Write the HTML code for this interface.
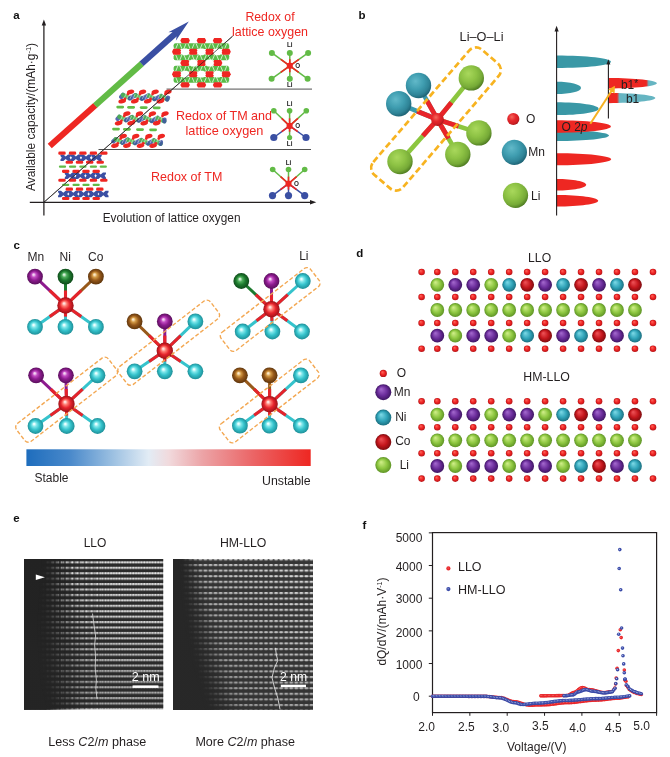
<!DOCTYPE html>
<html><head><meta charset="utf-8"><title>figure</title>
<style>html,body{margin:0;padding:0;background:#fff;}svg{display:block;font-family:'Liberation Sans', sans-serif;}</style>
</head><body>
<svg width="670" height="757" viewBox="0 0 670 757">
<defs>
<radialGradient id="gTeal" cx="0.4" cy="0.36" r="0.7" fx="0.38" fy="0.33"><stop offset="0" stop-color="#62b9c9"/><stop offset="0.45" stop-color="#3f9db0"/><stop offset="0.75" stop-color="#2f8497"/><stop offset="1" stop-color="#195a6b"/></radialGradient>
<radialGradient id="gLi" cx="0.4" cy="0.36" r="0.7" fx="0.38" fy="0.33"><stop offset="0" stop-color="#a9d85c"/><stop offset="0.45" stop-color="#8dc244"/><stop offset="0.75" stop-color="#76aa37"/><stop offset="1" stop-color="#446f1c"/></radialGradient>
<radialGradient id="gO" cx="0.4" cy="0.36" r="0.7" fx="0.38" fy="0.33"><stop offset="0" stop-color="#f4675c"/><stop offset="0.45" stop-color="#e5262b"/><stop offset="0.75" stop-color="#cf1f24"/><stop offset="1" stop-color="#9a1318"/></radialGradient>
<radialGradient id="cPur" cx="0.5" cy="0.5" r="0.5" fx="0.4" fy="0.36"><stop offset="0" stop-color="#f3d6f3"/><stop offset="0.08" stop-color="#f3d6f3"/><stop offset="0.3" stop-color="#c24bc2"/><stop offset="0.6" stop-color="#8d1b8f"/><stop offset="1" stop-color="#5a0f5c"/></radialGradient>
<radialGradient id="cGrn" cx="0.5" cy="0.5" r="0.5" fx="0.4" fy="0.36"><stop offset="0" stop-color="#d8f0da"/><stop offset="0.08" stop-color="#d8f0da"/><stop offset="0.3" stop-color="#4fae5c"/><stop offset="0.6" stop-color="#1d7a2e"/><stop offset="1" stop-color="#0f4a1a"/></radialGradient>
<radialGradient id="cBrn" cx="0.5" cy="0.5" r="0.5" fx="0.4" fy="0.36"><stop offset="0" stop-color="#fbe8c8"/><stop offset="0.08" stop-color="#fbe8c8"/><stop offset="0.3" stop-color="#d39a45"/><stop offset="0.6" stop-color="#97591a"/><stop offset="1" stop-color="#5e350c"/></radialGradient>
<radialGradient id="cCyn" cx="0.5" cy="0.5" r="0.5" fx="0.4" fy="0.36"><stop offset="0" stop-color="#eaffff"/><stop offset="0.08" stop-color="#eaffff"/><stop offset="0.3" stop-color="#7fe6ea"/><stop offset="0.6" stop-color="#35c3cc"/><stop offset="1" stop-color="#1e8f98"/></radialGradient>
<radialGradient id="cRed" cx="0.5" cy="0.5" r="0.5" fx="0.4" fy="0.36"><stop offset="0" stop-color="#ffe0dc"/><stop offset="0.08" stop-color="#ffe0dc"/><stop offset="0.3" stop-color="#ff7a70"/><stop offset="0.6" stop-color="#e5232b"/><stop offset="1" stop-color="#9c1218"/></radialGradient>
<radialGradient id="dLi" cx="0.5" cy="0.5" r="0.5" fx="0.35" fy="0.3"><stop offset="0" stop-color="#d3f08c"/><stop offset="0.6" stop-color="#8cc63f"/><stop offset="1" stop-color="#5f9426"/></radialGradient>
<radialGradient id="dMn" cx="0.5" cy="0.5" r="0.5" fx="0.35" fy="0.3"><stop offset="0" stop-color="#a66bd0"/><stop offset="0.6" stop-color="#6a2c9a"/><stop offset="1" stop-color="#3f1663"/></radialGradient>
<radialGradient id="dNi" cx="0.5" cy="0.5" r="0.5" fx="0.35" fy="0.3"><stop offset="0" stop-color="#7fdbe8"/><stop offset="0.6" stop-color="#2fa3b8"/><stop offset="1" stop-color="#1b6f80"/></radialGradient>
<radialGradient id="dCo" cx="0.5" cy="0.5" r="0.5" fx="0.35" fy="0.3"><stop offset="0" stop-color="#f0555a"/><stop offset="0.6" stop-color="#c4161c"/><stop offset="1" stop-color="#7e0c10"/></radialGradient>
<radialGradient id="dO" cx="0.5" cy="0.5" r="0.5" fx="0.35" fy="0.3"><stop offset="0" stop-color="#ff6a5e"/><stop offset="0.6" stop-color="#ee2222"/><stop offset="1" stop-color="#b51418"/></radialGradient>
<linearGradient id="bar" x1="0" x2="1" y1="0" y2="0"><stop offset="0" stop-color="#1e6dbd"/><stop offset="0.15" stop-color="#4888ca"/><stop offset="0.3" stop-color="#9abfe1"/><stop offset="0.43" stop-color="#e2ecf5"/><stop offset="0.5" stop-color="#f1dadd"/><stop offset="0.62" stop-color="#eca3a6"/><stop offset="0.8" stop-color="#eb6465"/><stop offset="1" stop-color="#ee2722"/></linearGradient>
<pattern id="tem1" x="24" y="561.3" width="2.77" height="5.43" patternUnits="userSpaceOnUse"><rect width="2.77" height="5.43" fill="#2a2a2a"/><rect x="0" y="0" width="2.77" height="2.1" fill="#888"/><rect x="0.25" y="0" width="2.0" height="2.1" rx="0.8" fill="#e6e6e6"/></pattern>
<pattern id="tem2" x="173" y="563.95" width="5.05" height="5.6" patternUnits="userSpaceOnUse"><rect width="5.05" height="5.6" fill="#363636"/><rect x="0" y="0.3" width="5.05" height="1.7" fill="#5c5c5c"/><rect x="0.3" y="0" width="3.7" height="2.2" rx="1" fill="#dadada"/></pattern>
<filter id="b05" x="-5%" y="-5%" width="110%" height="110%"><feGaussianBlur stdDeviation="0.4"/></filter>
<filter id="b5" x="-30%" y="-30%" width="160%" height="160%"><feGaussianBlur stdDeviation="5"/></filter>
<filter id="b3" x="-30%" y="-30%" width="160%" height="160%"><feGaussianBlur stdDeviation="3.5"/></filter>
<filter id="b03" x="-10%" y="-10%" width="120%" height="120%"><feGaussianBlur stdDeviation="0.3"/></filter>
<pattern id="vst" x="24.6" y="0" width="4.9" height="10" patternUnits="userSpaceOnUse"><rect x="0" y="0" width="1.9" height="10" fill="#262626"/></pattern>
<linearGradient id="mg1" x1="24" x2="114" y1="0" y2="0" gradientUnits="userSpaceOnUse"><stop offset="0" stop-color="#fff" stop-opacity="0.8"/><stop offset="0.55" stop-color="#fff" stop-opacity="0.6"/><stop offset="1" stop-color="#fff" stop-opacity="0"/></linearGradient>
<mask id="mk1" maskUnits="userSpaceOnUse" x="24" y="559" width="90" height="151"><rect x="24" y="559" width="90" height="151" fill="url(#mg1)"/></mask>
<linearGradient id="ov1" x1="0.2" x2="0" y1="0" y2="1"><stop offset="0" stop-color="#2a2a2a" stop-opacity="0"/><stop offset="0.35" stop-color="#2a2a2a" stop-opacity="0.08"/><stop offset="0.65" stop-color="#2a2a2a" stop-opacity="0.3"/><stop offset="1" stop-color="#2a2a2a" stop-opacity="0.28"/></linearGradient>
<linearGradient id="ov2" x1="1" x2="0.1" y1="0" y2="0.9"><stop offset="0" stop-color="#303030" stop-opacity="0"/><stop offset="0.3" stop-color="#303030" stop-opacity="0.12"/><stop offset="0.7" stop-color="#303030" stop-opacity="0.36"/><stop offset="1" stop-color="#303030" stop-opacity="0.4"/></linearGradient>
<clipPath id="clip1"><rect x="24" y="559" width="139.5" height="150.5"/></clipPath>
<clipPath id="clip2"><rect x="173" y="559" width="140" height="151"/></clipPath>
</defs>
<rect width="670" height="757" fill="#fff"/>
<g opacity="0.999">
<g id="panelA">
<text x="13.30" y="18.60" font-size="11.5" fill="#111" text-anchor="start" font-weight="bold">a</text>
<line x1="43.9" y1="24" x2="43.9" y2="215.5" stroke="#231f20" stroke-width="1.25"/>
<path d="M43.9 19.5 L46.1 25.6 L41.7 25.6 Z" fill="#231f20"/>
<line x1="29.8" y1="202.4" x2="311" y2="202.4" stroke="#231f20" stroke-width="1.25"/>
<path d="M316.3 202.3 L310 204.6 L310 200 Z" fill="#231f20"/>
<line x1="43.9" y1="202.3" x2="232.6" y2="36.2" stroke="#231f20" stroke-width="0.7"/>
<line x1="166.5" y1="89.1" x2="312" y2="89.1" stroke="#3c3c3c" stroke-width="0.9"/>
<line x1="98.5" y1="149.5" x2="311" y2="149.5" stroke="#3c3c3c" stroke-width="0.9"/>
<polygon points="47.72,143.78 93.32,102.96 97.39,107.51 51.78,148.32" fill="#ee2722"/>
<polygon points="93.10,103.16 139.82,61.35 143.88,65.89 97.16,107.71" fill="#62bb46"/>
<polygon points="139.59,61.55 173.65,31.07 177.71,35.62 143.66,66.09" fill="#3a4fa3"/>
<polygon points="172.53,32.07 168.37,32.37 188.80,21.60 175.84,40.72 176.60,36.62" fill="#3a4fa3"/>
<g filter="url(#b03)">
<polygon points="60.45,154.50 63.40,154.50 65.70,156.50 68.00,154.50 70.95,154.50 70.95,156.10 69.60,157.80 70.95,159.50 70.95,161.10 68.00,161.10 65.70,159.10 63.40,161.10 60.45,161.10 60.45,159.50 61.80,157.80 60.45,156.10" fill="#3a4fa3"/>
<polygon points="70.65,154.50 73.60,154.50 75.90,156.50 78.20,154.50 81.15,154.50 81.15,156.10 79.80,157.80 81.15,159.50 81.15,161.10 78.20,161.10 75.90,159.10 73.60,161.10 70.65,161.10 70.65,159.50 72.00,157.80 70.65,156.10" fill="#3a4fa3"/>
<polygon points="80.75,154.50 83.70,154.50 86.00,156.50 88.30,154.50 91.25,154.50 91.25,156.10 89.90,157.80 91.25,159.50 91.25,161.10 88.30,161.10 86.00,159.10 83.70,161.10 80.75,161.10 80.75,159.50 82.10,157.80 80.75,156.10" fill="#3a4fa3"/>
<polygon points="91.25,154.50 94.20,154.50 96.50,156.50 98.80,154.50 101.75,154.50 101.75,156.10 100.40,157.80 101.75,159.50 101.75,161.10 98.80,161.10 96.50,159.10 94.20,161.10 91.25,161.10 91.25,159.50 92.60,157.80 91.25,156.10" fill="#3a4fa3"/>
<rect x="58.30" y="151.60" width="7.4" height="3.1" rx="1.3" fill="#ee2722"/>
<rect x="68.80" y="151.60" width="7.4" height="3.1" rx="1.3" fill="#ee2722"/>
<rect x="79.20" y="151.60" width="7.4" height="3.1" rx="1.3" fill="#ee2722"/>
<rect x="89.70" y="151.60" width="7.4" height="3.1" rx="1.3" fill="#ee2722"/>
<rect x="100.10" y="151.60" width="7.4" height="3.1" rx="1.3" fill="#ee2722"/>
<rect x="65.60" y="160.70" width="7.4" height="3.1" rx="1.3" fill="#ee2722"/>
<rect x="75.80" y="160.70" width="7.4" height="3.1" rx="1.3" fill="#ee2722"/>
<rect x="86.00" y="160.70" width="7.4" height="3.1" rx="1.3" fill="#ee2722"/>
<rect x="96.50" y="160.70" width="7.4" height="3.1" rx="1.3" fill="#ee2722"/>
<rect x="58.90" y="165.40" width="7.2" height="2.4" rx="1.1" fill="#62bb46"/>
<rect x="69.00" y="165.40" width="7.2" height="2.4" rx="1.1" fill="#62bb46"/>
<rect x="79.30" y="165.40" width="7.2" height="2.4" rx="1.1" fill="#62bb46"/>
<rect x="89.80" y="165.40" width="7.2" height="2.4" rx="1.1" fill="#62bb46"/>
<rect x="99.70" y="165.40" width="7.2" height="2.4" rx="1.1" fill="#62bb46"/>
<polygon points="64.75,172.50 67.70,172.50 70.00,174.50 72.30,172.50 75.25,172.50 75.25,174.10 73.90,175.80 75.25,177.50 75.25,179.10 72.30,179.10 70.00,177.10 67.70,179.10 64.75,179.10 64.75,177.50 66.10,175.80 64.75,174.10" fill="#3a4fa3"/>
<polygon points="75.05,172.50 78.00,172.50 80.30,174.50 82.60,172.50 85.55,172.50 85.55,174.10 84.20,175.80 85.55,177.50 85.55,179.10 82.60,179.10 80.30,177.10 78.00,179.10 75.05,179.10 75.05,177.50 76.40,175.80 75.05,174.10" fill="#3a4fa3"/>
<polygon points="85.25,172.50 88.20,172.50 90.50,174.50 92.80,172.50 95.75,172.50 95.75,174.10 94.40,175.80 95.75,177.50 95.75,179.10 92.80,179.10 90.50,177.10 88.20,179.10 85.25,179.10 85.25,177.50 86.60,175.80 85.25,174.10" fill="#3a4fa3"/>
<polygon points="95.45,172.50 98.40,172.50 100.70,174.50 103.00,172.50 105.95,172.50 105.95,174.10 104.60,175.80 105.95,177.50 105.95,179.10 103.00,179.10 100.70,177.10 98.40,179.10 95.45,179.10 95.45,177.50 96.80,175.80 95.45,174.10" fill="#3a4fa3"/>
<rect x="62.00" y="169.80" width="7.4" height="3.1" rx="1.3" fill="#ee2722"/>
<rect x="72.40" y="169.80" width="7.4" height="3.1" rx="1.3" fill="#ee2722"/>
<rect x="82.30" y="169.80" width="7.4" height="3.1" rx="1.3" fill="#ee2722"/>
<rect x="92.50" y="169.80" width="7.4" height="3.1" rx="1.3" fill="#ee2722"/>
<rect x="58.30" y="178.70" width="7.4" height="3.1" rx="1.3" fill="#ee2722"/>
<rect x="68.80" y="178.70" width="7.4" height="3.1" rx="1.3" fill="#ee2722"/>
<rect x="79.20" y="178.70" width="7.4" height="3.1" rx="1.3" fill="#ee2722"/>
<rect x="89.70" y="178.70" width="7.4" height="3.1" rx="1.3" fill="#ee2722"/>
<rect x="100.10" y="178.70" width="7.4" height="3.1" rx="1.3" fill="#ee2722"/>
<rect x="62.10" y="183.70" width="7.2" height="2.4" rx="1.1" fill="#62bb46"/>
<rect x="72.50" y="183.70" width="7.2" height="2.4" rx="1.1" fill="#62bb46"/>
<rect x="82.40" y="183.70" width="7.2" height="2.4" rx="1.1" fill="#62bb46"/>
<rect x="92.60" y="183.70" width="7.2" height="2.4" rx="1.1" fill="#62bb46"/>
<polygon points="58.05,190.70 61.00,190.70 63.30,192.70 65.60,190.70 68.55,190.70 68.55,192.30 67.20,194.00 68.55,195.70 68.55,197.30 65.60,197.30 63.30,195.30 61.00,197.30 58.05,197.30 58.05,195.70 59.40,194.00 58.05,192.30" fill="#3a4fa3"/>
<polygon points="68.05,190.70 71.00,190.70 73.30,192.70 75.60,190.70 78.55,190.70 78.55,192.30 77.20,194.00 78.55,195.70 78.55,197.30 75.60,197.30 73.30,195.30 71.00,197.30 68.05,197.30 68.05,195.70 69.40,194.00 68.05,192.30" fill="#3a4fa3"/>
<polygon points="78.25,190.70 81.20,190.70 83.50,192.70 85.80,190.70 88.75,190.70 88.75,192.30 87.40,194.00 88.75,195.70 88.75,197.30 85.80,197.30 83.50,195.30 81.20,197.30 78.25,197.30 78.25,195.70 79.60,194.00 78.25,192.30" fill="#3a4fa3"/>
<polygon points="88.45,190.70 91.40,190.70 93.70,192.70 96.00,190.70 98.95,190.70 98.95,192.30 97.60,194.00 98.95,195.70 98.95,197.30 96.00,197.30 93.70,195.30 91.40,197.30 88.45,197.30 88.45,195.70 89.80,194.00 88.45,192.30" fill="#3a4fa3"/>
<polygon points="98.05,190.70 101.00,190.70 103.30,192.70 105.60,190.70 108.55,190.70 108.55,192.30 107.20,194.00 108.55,195.70 108.55,197.30 105.60,197.30 103.30,195.30 101.00,197.30 98.05,197.30 98.05,195.70 99.40,194.00 98.05,192.30" fill="#3a4fa3"/>
<rect x="65.60" y="187.60" width="7.4" height="3.1" rx="1.3" fill="#ee2722"/>
<rect x="75.80" y="187.60" width="7.4" height="3.1" rx="1.3" fill="#ee2722"/>
<rect x="86.00" y="187.60" width="7.4" height="3.1" rx="1.3" fill="#ee2722"/>
<rect x="96.10" y="187.60" width="7.4" height="3.1" rx="1.3" fill="#ee2722"/>
<rect x="62.00" y="197.00" width="7.4" height="3.1" rx="1.3" fill="#ee2722"/>
<rect x="72.40" y="197.00" width="7.4" height="3.1" rx="1.3" fill="#ee2722"/>
<rect x="82.30" y="197.00" width="7.4" height="3.1" rx="1.3" fill="#ee2722"/>
<rect x="92.50" y="197.00" width="7.4" height="3.1" rx="1.3" fill="#ee2722"/>
</g>
<g filter="url(#b03)">
<line x1="121.20" y1="96.98" x2="123.00" y2="94.89" stroke="#3a4fa3" stroke-width="4.3" stroke-linecap="round" opacity="0.85"/>
<line x1="123.00" y1="94.94" x2="129.80" y2="98.14" stroke="#4cb848" stroke-width="4.3" stroke-linecap="round" opacity="0.85"/>
<line x1="129.80" y1="98.34" x2="135.60" y2="95.14" stroke="#3a4fa3" stroke-width="4.3" stroke-linecap="round" opacity="0.85"/>
<line x1="135.60" y1="95.32" x2="141.80" y2="98.52" stroke="#4cb848" stroke-width="4.3" stroke-linecap="round" opacity="0.85"/>
<line x1="141.80" y1="98.70" x2="148.60" y2="95.50" stroke="#3a4fa3" stroke-width="4.3" stroke-linecap="round" opacity="0.85"/>
<line x1="148.60" y1="95.71" x2="154.40" y2="98.91" stroke="#4cb848" stroke-width="4.3" stroke-linecap="round" opacity="0.85"/>
<line x1="154.40" y1="99.08" x2="161.20" y2="95.88" stroke="#3a4fa3" stroke-width="4.3" stroke-linecap="round" opacity="0.85"/>
<line x1="161.20" y1="96.09" x2="167.20" y2="99.28" stroke="#4cb848" stroke-width="4.3" stroke-linecap="round" opacity="0.85"/>
<line x1="167.20" y1="99.46" x2="168.00" y2="97.66" stroke="#3a4fa3" stroke-width="4.3" stroke-linecap="round" opacity="0.85"/>
<line x1="123.70" y1="98.90" x2="125.90" y2="94.10" stroke="#fff" stroke-width="0.6" opacity="0.75"/>
<line x1="126.80" y1="98.90" x2="129.00" y2="94.10" stroke="#fff" stroke-width="0.6" opacity="0.75"/>
<line x1="129.90" y1="98.90" x2="132.10" y2="94.10" stroke="#fff" stroke-width="0.6" opacity="0.75"/>
<line x1="133.00" y1="98.90" x2="135.20" y2="94.10" stroke="#fff" stroke-width="0.6" opacity="0.75"/>
<line x1="136.10" y1="98.90" x2="138.30" y2="94.10" stroke="#fff" stroke-width="0.6" opacity="0.75"/>
<line x1="139.20" y1="98.90" x2="141.40" y2="94.10" stroke="#fff" stroke-width="0.6" opacity="0.75"/>
<line x1="142.30" y1="98.90" x2="144.50" y2="94.10" stroke="#fff" stroke-width="0.6" opacity="0.75"/>
<line x1="145.40" y1="98.90" x2="147.60" y2="94.10" stroke="#fff" stroke-width="0.6" opacity="0.75"/>
<line x1="148.50" y1="98.90" x2="150.70" y2="94.10" stroke="#fff" stroke-width="0.6" opacity="0.75"/>
<line x1="151.60" y1="98.90" x2="153.80" y2="94.10" stroke="#fff" stroke-width="0.6" opacity="0.75"/>
<line x1="154.70" y1="98.90" x2="156.90" y2="94.10" stroke="#fff" stroke-width="0.6" opacity="0.75"/>
<line x1="157.80" y1="98.90" x2="160.00" y2="94.10" stroke="#fff" stroke-width="0.6" opacity="0.75"/>
<line x1="160.90" y1="98.90" x2="163.10" y2="94.10" stroke="#fff" stroke-width="0.6" opacity="0.75"/>
<line x1="164.00" y1="98.90" x2="166.20" y2="94.10" stroke="#fff" stroke-width="0.6" opacity="0.75"/>
<ellipse cx="130.60" cy="91.80" rx="3.7" ry="2.2" fill="#ee2722" transform="rotate(-14 130.60 91.80)"/>
<circle cx="128.00" cy="94.10" r="1.4" fill="#ee2722"/>
<ellipse cx="142.60" cy="91.80" rx="3.7" ry="2.2" fill="#ee2722" transform="rotate(-14 142.60 91.80)"/>
<circle cx="140.00" cy="94.10" r="1.4" fill="#ee2722"/>
<ellipse cx="155.20" cy="91.80" rx="3.7" ry="2.2" fill="#ee2722" transform="rotate(-14 155.20 91.80)"/>
<circle cx="152.60" cy="94.10" r="1.4" fill="#ee2722"/>
<ellipse cx="168.00" cy="91.80" rx="3.7" ry="2.2" fill="#ee2722" transform="rotate(-14 168.00 91.80)"/>
<circle cx="165.40" cy="94.10" r="1.4" fill="#ee2722"/>
<ellipse cx="122.20" cy="101.20" rx="3.9" ry="2.2" fill="#ee2722" transform="rotate(-14 122.20 101.20)"/>
<circle cx="125.00" cy="98.90" r="1.4" fill="#ee2722"/>
<ellipse cx="134.80" cy="101.20" rx="3.9" ry="2.2" fill="#ee2722" transform="rotate(-14 134.80 101.20)"/>
<circle cx="137.60" cy="98.90" r="1.4" fill="#ee2722"/>
<ellipse cx="147.80" cy="101.20" rx="3.9" ry="2.2" fill="#ee2722" transform="rotate(-14 147.80 101.20)"/>
<circle cx="150.60" cy="98.90" r="1.4" fill="#ee2722"/>
<ellipse cx="160.40" cy="101.20" rx="3.9" ry="2.2" fill="#ee2722" transform="rotate(-14 160.40 101.20)"/>
<circle cx="163.20" cy="98.90" r="1.4" fill="#ee2722"/>
<rect x="116.30" y="105.70" width="7.8" height="2.7" rx="1.3" fill="#62bb46"/>
<rect x="127.20" y="105.95" width="7.8" height="2.7" rx="1.3" fill="#62bb46"/>
<rect x="139.80" y="106.20" width="7.8" height="2.7" rx="1.3" fill="#62bb46"/>
<rect x="152.80" y="106.45" width="7.8" height="2.7" rx="1.3" fill="#62bb46"/>
<line x1="117.60" y1="118.89" x2="119.40" y2="116.79" stroke="#3a4fa3" stroke-width="4.3" stroke-linecap="round" opacity="0.85"/>
<line x1="119.40" y1="116.84" x2="126.10" y2="120.04" stroke="#4cb848" stroke-width="4.3" stroke-linecap="round" opacity="0.85"/>
<line x1="126.10" y1="120.24" x2="131.90" y2="117.04" stroke="#3a4fa3" stroke-width="4.3" stroke-linecap="round" opacity="0.85"/>
<line x1="131.90" y1="117.21" x2="138.70" y2="120.41" stroke="#4cb848" stroke-width="4.3" stroke-linecap="round" opacity="0.85"/>
<line x1="138.70" y1="120.62" x2="145.00" y2="117.42" stroke="#3a4fa3" stroke-width="4.3" stroke-linecap="round" opacity="0.85"/>
<line x1="145.00" y1="117.61" x2="151.70" y2="120.81" stroke="#4cb848" stroke-width="4.3" stroke-linecap="round" opacity="0.85"/>
<line x1="151.70" y1="121.01" x2="157.50" y2="117.81" stroke="#3a4fa3" stroke-width="4.3" stroke-linecap="round" opacity="0.85"/>
<line x1="157.50" y1="117.98" x2="164.30" y2="121.18" stroke="#4cb848" stroke-width="4.3" stroke-linecap="round" opacity="0.85"/>
<line x1="164.30" y1="121.39" x2="164.50" y2="119.59" stroke="#3a4fa3" stroke-width="4.3" stroke-linecap="round" opacity="0.85"/>
<line x1="120.10" y1="120.80" x2="122.30" y2="116.00" stroke="#fff" stroke-width="0.6" opacity="0.75"/>
<line x1="123.20" y1="120.80" x2="125.40" y2="116.00" stroke="#fff" stroke-width="0.6" opacity="0.75"/>
<line x1="126.30" y1="120.80" x2="128.50" y2="116.00" stroke="#fff" stroke-width="0.6" opacity="0.75"/>
<line x1="129.40" y1="120.80" x2="131.60" y2="116.00" stroke="#fff" stroke-width="0.6" opacity="0.75"/>
<line x1="132.50" y1="120.80" x2="134.70" y2="116.00" stroke="#fff" stroke-width="0.6" opacity="0.75"/>
<line x1="135.60" y1="120.80" x2="137.80" y2="116.00" stroke="#fff" stroke-width="0.6" opacity="0.75"/>
<line x1="138.70" y1="120.80" x2="140.90" y2="116.00" stroke="#fff" stroke-width="0.6" opacity="0.75"/>
<line x1="141.80" y1="120.80" x2="144.00" y2="116.00" stroke="#fff" stroke-width="0.6" opacity="0.75"/>
<line x1="144.90" y1="120.80" x2="147.10" y2="116.00" stroke="#fff" stroke-width="0.6" opacity="0.75"/>
<line x1="148.00" y1="120.80" x2="150.20" y2="116.00" stroke="#fff" stroke-width="0.6" opacity="0.75"/>
<line x1="151.10" y1="120.80" x2="153.30" y2="116.00" stroke="#fff" stroke-width="0.6" opacity="0.75"/>
<line x1="154.20" y1="120.80" x2="156.40" y2="116.00" stroke="#fff" stroke-width="0.6" opacity="0.75"/>
<line x1="157.30" y1="120.80" x2="159.50" y2="116.00" stroke="#fff" stroke-width="0.6" opacity="0.75"/>
<line x1="160.40" y1="120.80" x2="162.60" y2="116.00" stroke="#fff" stroke-width="0.6" opacity="0.75"/>
<ellipse cx="126.90" cy="113.70" rx="3.7" ry="2.2" fill="#ee2722" transform="rotate(-14 126.90 113.70)"/>
<circle cx="124.30" cy="116.00" r="1.4" fill="#ee2722"/>
<ellipse cx="139.50" cy="113.70" rx="3.7" ry="2.2" fill="#ee2722" transform="rotate(-14 139.50 113.70)"/>
<circle cx="136.90" cy="116.00" r="1.4" fill="#ee2722"/>
<ellipse cx="152.50" cy="113.70" rx="3.7" ry="2.2" fill="#ee2722" transform="rotate(-14 152.50 113.70)"/>
<circle cx="149.90" cy="116.00" r="1.4" fill="#ee2722"/>
<ellipse cx="165.10" cy="113.70" rx="3.7" ry="2.2" fill="#ee2722" transform="rotate(-14 165.10 113.70)"/>
<circle cx="162.50" cy="116.00" r="1.4" fill="#ee2722"/>
<ellipse cx="118.60" cy="123.10" rx="3.9" ry="2.2" fill="#ee2722" transform="rotate(-14 118.60 123.10)"/>
<circle cx="121.40" cy="120.80" r="1.4" fill="#ee2722"/>
<ellipse cx="131.10" cy="123.10" rx="3.9" ry="2.2" fill="#ee2722" transform="rotate(-14 131.10 123.10)"/>
<circle cx="133.90" cy="120.80" r="1.4" fill="#ee2722"/>
<ellipse cx="144.20" cy="123.10" rx="3.9" ry="2.2" fill="#ee2722" transform="rotate(-14 144.20 123.10)"/>
<circle cx="147.00" cy="120.80" r="1.4" fill="#ee2722"/>
<ellipse cx="156.70" cy="123.10" rx="3.9" ry="2.2" fill="#ee2722" transform="rotate(-14 156.70 123.10)"/>
<circle cx="159.50" cy="120.80" r="1.4" fill="#ee2722"/>
<rect x="112.10" y="127.70" width="7.8" height="2.7" rx="1.3" fill="#62bb46"/>
<rect x="123.00" y="127.95" width="7.8" height="2.7" rx="1.3" fill="#62bb46"/>
<rect x="136.10" y="128.20" width="7.8" height="2.7" rx="1.3" fill="#62bb46"/>
<rect x="149.20" y="128.45" width="7.8" height="2.7" rx="1.3" fill="#62bb46"/>
<line x1="113.40" y1="141.39" x2="115.70" y2="139.29" stroke="#3a4fa3" stroke-width="4.3" stroke-linecap="round" opacity="0.85"/>
<line x1="115.70" y1="139.35" x2="122.50" y2="142.55" stroke="#4cb848" stroke-width="4.3" stroke-linecap="round" opacity="0.85"/>
<line x1="122.50" y1="142.76" x2="127.70" y2="139.56" stroke="#3a4fa3" stroke-width="4.3" stroke-linecap="round" opacity="0.85"/>
<line x1="127.70" y1="139.71" x2="135.00" y2="142.91" stroke="#4cb848" stroke-width="4.3" stroke-linecap="round" opacity="0.85"/>
<line x1="135.00" y1="143.13" x2="141.30" y2="139.93" stroke="#3a4fa3" stroke-width="4.3" stroke-linecap="round" opacity="0.85"/>
<line x1="141.30" y1="140.12" x2="148.10" y2="143.32" stroke="#4cb848" stroke-width="4.3" stroke-linecap="round" opacity="0.85"/>
<line x1="148.10" y1="143.53" x2="153.90" y2="140.33" stroke="#3a4fa3" stroke-width="4.3" stroke-linecap="round" opacity="0.85"/>
<line x1="153.90" y1="140.50" x2="160.60" y2="143.70" stroke="#4cb848" stroke-width="4.3" stroke-linecap="round" opacity="0.85"/>
<line x1="160.60" y1="143.90" x2="161.00" y2="142.10" stroke="#3a4fa3" stroke-width="4.3" stroke-linecap="round" opacity="0.85"/>
<line x1="115.90" y1="143.30" x2="118.10" y2="138.50" stroke="#fff" stroke-width="0.6" opacity="0.75"/>
<line x1="119.00" y1="143.30" x2="121.20" y2="138.50" stroke="#fff" stroke-width="0.6" opacity="0.75"/>
<line x1="122.10" y1="143.30" x2="124.30" y2="138.50" stroke="#fff" stroke-width="0.6" opacity="0.75"/>
<line x1="125.20" y1="143.30" x2="127.40" y2="138.50" stroke="#fff" stroke-width="0.6" opacity="0.75"/>
<line x1="128.30" y1="143.30" x2="130.50" y2="138.50" stroke="#fff" stroke-width="0.6" opacity="0.75"/>
<line x1="131.40" y1="143.30" x2="133.60" y2="138.50" stroke="#fff" stroke-width="0.6" opacity="0.75"/>
<line x1="134.50" y1="143.30" x2="136.70" y2="138.50" stroke="#fff" stroke-width="0.6" opacity="0.75"/>
<line x1="137.60" y1="143.30" x2="139.80" y2="138.50" stroke="#fff" stroke-width="0.6" opacity="0.75"/>
<line x1="140.70" y1="143.30" x2="142.90" y2="138.50" stroke="#fff" stroke-width="0.6" opacity="0.75"/>
<line x1="143.80" y1="143.30" x2="146.00" y2="138.50" stroke="#fff" stroke-width="0.6" opacity="0.75"/>
<line x1="146.90" y1="143.30" x2="149.10" y2="138.50" stroke="#fff" stroke-width="0.6" opacity="0.75"/>
<line x1="150.00" y1="143.30" x2="152.20" y2="138.50" stroke="#fff" stroke-width="0.6" opacity="0.75"/>
<line x1="153.10" y1="143.30" x2="155.30" y2="138.50" stroke="#fff" stroke-width="0.6" opacity="0.75"/>
<line x1="156.20" y1="143.30" x2="158.40" y2="138.50" stroke="#fff" stroke-width="0.6" opacity="0.75"/>
<line x1="159.30" y1="143.30" x2="161.50" y2="138.50" stroke="#fff" stroke-width="0.6" opacity="0.75"/>
<ellipse cx="123.30" cy="136.20" rx="3.7" ry="2.2" fill="#ee2722" transform="rotate(-14 123.30 136.20)"/>
<circle cx="120.70" cy="138.50" r="1.4" fill="#ee2722"/>
<ellipse cx="135.80" cy="136.20" rx="3.7" ry="2.2" fill="#ee2722" transform="rotate(-14 135.80 136.20)"/>
<circle cx="133.20" cy="138.50" r="1.4" fill="#ee2722"/>
<ellipse cx="148.90" cy="136.20" rx="3.7" ry="2.2" fill="#ee2722" transform="rotate(-14 148.90 136.20)"/>
<circle cx="146.30" cy="138.50" r="1.4" fill="#ee2722"/>
<ellipse cx="161.40" cy="136.20" rx="3.7" ry="2.2" fill="#ee2722" transform="rotate(-14 161.40 136.20)"/>
<circle cx="158.80" cy="138.50" r="1.4" fill="#ee2722"/>
<ellipse cx="114.90" cy="145.60" rx="3.9" ry="2.2" fill="#ee2722" transform="rotate(-14 114.90 145.60)"/>
<circle cx="117.70" cy="143.30" r="1.4" fill="#ee2722"/>
<ellipse cx="126.90" cy="145.60" rx="3.9" ry="2.2" fill="#ee2722" transform="rotate(-14 126.90 145.60)"/>
<circle cx="129.70" cy="143.30" r="1.4" fill="#ee2722"/>
<ellipse cx="140.50" cy="145.60" rx="3.9" ry="2.2" fill="#ee2722" transform="rotate(-14 140.50 145.60)"/>
<circle cx="143.30" cy="143.30" r="1.4" fill="#ee2722"/>
<ellipse cx="153.10" cy="145.60" rx="3.9" ry="2.2" fill="#ee2722" transform="rotate(-14 153.10 145.60)"/>
<circle cx="155.90" cy="143.30" r="1.4" fill="#ee2722"/>
</g>
<g filter="url(#b03)">
<rect x="173.6" y="43.30" width="55.8" height="5.8" rx="2" fill="#58bb47"/>
<line x1="175.70" y1="48.80" x2="177.90" y2="43.60" stroke="#fff" stroke-width="0.8" opacity="0.9"/>
<line x1="181.97" y1="48.80" x2="179.78" y2="43.60" stroke="#fff" stroke-width="0.8" opacity="0.9"/>
<line x1="183.85" y1="48.80" x2="186.05" y2="43.60" stroke="#fff" stroke-width="0.8" opacity="0.9"/>
<line x1="190.12" y1="48.80" x2="187.93" y2="43.60" stroke="#fff" stroke-width="0.8" opacity="0.9"/>
<line x1="192.00" y1="48.80" x2="194.20" y2="43.60" stroke="#fff" stroke-width="0.8" opacity="0.9"/>
<line x1="198.28" y1="48.80" x2="196.08" y2="43.60" stroke="#fff" stroke-width="0.8" opacity="0.9"/>
<line x1="200.15" y1="48.80" x2="202.35" y2="43.60" stroke="#fff" stroke-width="0.8" opacity="0.9"/>
<line x1="206.43" y1="48.80" x2="204.23" y2="43.60" stroke="#fff" stroke-width="0.8" opacity="0.9"/>
<line x1="208.30" y1="48.80" x2="210.50" y2="43.60" stroke="#fff" stroke-width="0.8" opacity="0.9"/>
<line x1="214.58" y1="48.80" x2="212.38" y2="43.60" stroke="#fff" stroke-width="0.8" opacity="0.9"/>
<line x1="216.45" y1="48.80" x2="218.65" y2="43.60" stroke="#fff" stroke-width="0.8" opacity="0.9"/>
<line x1="222.72" y1="48.80" x2="220.53" y2="43.60" stroke="#fff" stroke-width="0.8" opacity="0.9"/>
<line x1="224.60" y1="48.80" x2="226.80" y2="43.60" stroke="#fff" stroke-width="0.8" opacity="0.9"/>
<line x1="230.88" y1="48.80" x2="228.68" y2="43.60" stroke="#fff" stroke-width="0.8" opacity="0.9"/>
<rect x="173.6" y="54.50" width="55.8" height="5.8" rx="2" fill="#58bb47"/>
<line x1="177.90" y1="60.00" x2="175.70" y2="54.80" stroke="#fff" stroke-width="0.8" opacity="0.9"/>
<line x1="179.78" y1="60.00" x2="181.97" y2="54.80" stroke="#fff" stroke-width="0.8" opacity="0.9"/>
<line x1="186.05" y1="60.00" x2="183.85" y2="54.80" stroke="#fff" stroke-width="0.8" opacity="0.9"/>
<line x1="187.93" y1="60.00" x2="190.12" y2="54.80" stroke="#fff" stroke-width="0.8" opacity="0.9"/>
<line x1="194.20" y1="60.00" x2="192.00" y2="54.80" stroke="#fff" stroke-width="0.8" opacity="0.9"/>
<line x1="196.08" y1="60.00" x2="198.28" y2="54.80" stroke="#fff" stroke-width="0.8" opacity="0.9"/>
<line x1="202.35" y1="60.00" x2="200.15" y2="54.80" stroke="#fff" stroke-width="0.8" opacity="0.9"/>
<line x1="204.23" y1="60.00" x2="206.43" y2="54.80" stroke="#fff" stroke-width="0.8" opacity="0.9"/>
<line x1="210.50" y1="60.00" x2="208.30" y2="54.80" stroke="#fff" stroke-width="0.8" opacity="0.9"/>
<line x1="212.38" y1="60.00" x2="214.58" y2="54.80" stroke="#fff" stroke-width="0.8" opacity="0.9"/>
<line x1="218.65" y1="60.00" x2="216.45" y2="54.80" stroke="#fff" stroke-width="0.8" opacity="0.9"/>
<line x1="220.53" y1="60.00" x2="222.72" y2="54.80" stroke="#fff" stroke-width="0.8" opacity="0.9"/>
<line x1="226.80" y1="60.00" x2="224.60" y2="54.80" stroke="#fff" stroke-width="0.8" opacity="0.9"/>
<line x1="228.68" y1="60.00" x2="230.88" y2="54.80" stroke="#fff" stroke-width="0.8" opacity="0.9"/>
<rect x="173.6" y="65.70" width="55.8" height="5.8" rx="2" fill="#58bb47"/>
<line x1="175.70" y1="71.20" x2="177.90" y2="66.00" stroke="#fff" stroke-width="0.8" opacity="0.9"/>
<line x1="181.97" y1="71.20" x2="179.78" y2="66.00" stroke="#fff" stroke-width="0.8" opacity="0.9"/>
<line x1="183.85" y1="71.20" x2="186.05" y2="66.00" stroke="#fff" stroke-width="0.8" opacity="0.9"/>
<line x1="190.12" y1="71.20" x2="187.93" y2="66.00" stroke="#fff" stroke-width="0.8" opacity="0.9"/>
<line x1="192.00" y1="71.20" x2="194.20" y2="66.00" stroke="#fff" stroke-width="0.8" opacity="0.9"/>
<line x1="198.28" y1="71.20" x2="196.08" y2="66.00" stroke="#fff" stroke-width="0.8" opacity="0.9"/>
<line x1="200.15" y1="71.20" x2="202.35" y2="66.00" stroke="#fff" stroke-width="0.8" opacity="0.9"/>
<line x1="206.43" y1="71.20" x2="204.23" y2="66.00" stroke="#fff" stroke-width="0.8" opacity="0.9"/>
<line x1="208.30" y1="71.20" x2="210.50" y2="66.00" stroke="#fff" stroke-width="0.8" opacity="0.9"/>
<line x1="214.58" y1="71.20" x2="212.38" y2="66.00" stroke="#fff" stroke-width="0.8" opacity="0.9"/>
<line x1="216.45" y1="71.20" x2="218.65" y2="66.00" stroke="#fff" stroke-width="0.8" opacity="0.9"/>
<line x1="222.72" y1="71.20" x2="220.53" y2="66.00" stroke="#fff" stroke-width="0.8" opacity="0.9"/>
<line x1="224.60" y1="71.20" x2="226.80" y2="66.00" stroke="#fff" stroke-width="0.8" opacity="0.9"/>
<line x1="230.88" y1="71.20" x2="228.68" y2="66.00" stroke="#fff" stroke-width="0.8" opacity="0.9"/>
<rect x="173.6" y="76.90" width="55.8" height="5.8" rx="2" fill="#58bb47"/>
<line x1="177.90" y1="82.40" x2="175.70" y2="77.20" stroke="#fff" stroke-width="0.8" opacity="0.9"/>
<line x1="179.78" y1="82.40" x2="181.97" y2="77.20" stroke="#fff" stroke-width="0.8" opacity="0.9"/>
<line x1="186.05" y1="82.40" x2="183.85" y2="77.20" stroke="#fff" stroke-width="0.8" opacity="0.9"/>
<line x1="187.93" y1="82.40" x2="190.12" y2="77.20" stroke="#fff" stroke-width="0.8" opacity="0.9"/>
<line x1="194.20" y1="82.40" x2="192.00" y2="77.20" stroke="#fff" stroke-width="0.8" opacity="0.9"/>
<line x1="196.08" y1="82.40" x2="198.28" y2="77.20" stroke="#fff" stroke-width="0.8" opacity="0.9"/>
<line x1="202.35" y1="82.40" x2="200.15" y2="77.20" stroke="#fff" stroke-width="0.8" opacity="0.9"/>
<line x1="204.23" y1="82.40" x2="206.43" y2="77.20" stroke="#fff" stroke-width="0.8" opacity="0.9"/>
<line x1="210.50" y1="82.40" x2="208.30" y2="77.20" stroke="#fff" stroke-width="0.8" opacity="0.9"/>
<line x1="212.38" y1="82.40" x2="214.58" y2="77.20" stroke="#fff" stroke-width="0.8" opacity="0.9"/>
<line x1="218.65" y1="82.40" x2="216.45" y2="77.20" stroke="#fff" stroke-width="0.8" opacity="0.9"/>
<line x1="220.53" y1="82.40" x2="222.72" y2="77.20" stroke="#fff" stroke-width="0.8" opacity="0.9"/>
<line x1="226.80" y1="82.40" x2="224.60" y2="77.20" stroke="#fff" stroke-width="0.8" opacity="0.9"/>
<line x1="228.68" y1="82.40" x2="230.88" y2="77.20" stroke="#fff" stroke-width="0.8" opacity="0.9"/>
<path d="M180.30 40.60 L181.70 38.00 L188.50 38.00 L189.90 40.60 L188.50 43.20 L181.70 43.20 Z" fill="#ee2722"/>
<path d="M196.60 40.60 L198.00 38.00 L204.80 38.00 L206.20 40.60 L204.80 43.20 L198.00 43.20 Z" fill="#ee2722"/>
<path d="M212.80 40.60 L214.20 38.00 L221.00 38.00 L222.40 40.60 L221.00 43.20 L214.20 43.20 Z" fill="#ee2722"/>
<path d="M172.00 51.80 L173.40 48.80 L180.20 48.80 L181.60 51.80 L180.20 54.80 L173.40 54.80 Z" fill="#ee2722"/>
<path d="M188.40 51.80 L189.80 48.80 L196.60 48.80 L198.00 51.80 L196.60 54.80 L189.80 54.80 Z" fill="#ee2722"/>
<path d="M204.80 51.80 L206.20 48.80 L213.00 48.80 L214.40 51.80 L213.00 54.80 L206.20 54.80 Z" fill="#ee2722"/>
<path d="M221.20 51.80 L222.60 48.80 L229.40 48.80 L230.80 51.80 L229.40 54.80 L222.60 54.80 Z" fill="#ee2722"/>
<path d="M180.40 51.80 L183.10 48.40 L187.10 48.40 L189.80 51.80 L187.10 55.20 L183.10 55.20 Z" fill="#fff"/>
<path d="M196.70 51.80 L199.40 48.40 L203.40 48.40 L206.10 51.80 L203.40 55.20 L199.40 55.20 Z" fill="#fff"/>
<path d="M212.90 51.80 L215.60 48.40 L219.60 48.40 L222.30 51.80 L219.60 55.20 L215.60 55.20 Z" fill="#fff"/>
<path d="M180.30 63.00 L181.70 60.00 L188.50 60.00 L189.90 63.00 L188.50 66.00 L181.70 66.00 Z" fill="#ee2722"/>
<path d="M196.60 63.00 L198.00 60.00 L204.80 60.00 L206.20 63.00 L204.80 66.00 L198.00 66.00 Z" fill="#ee2722"/>
<path d="M212.80 63.00 L214.20 60.00 L221.00 60.00 L222.40 63.00 L221.00 66.00 L214.20 66.00 Z" fill="#ee2722"/>
<path d="M188.50 63.00 L191.20 59.60 L195.20 59.60 L197.90 63.00 L195.20 66.40 L191.20 66.40 Z" fill="#fff"/>
<path d="M204.90 63.00 L207.60 59.60 L211.60 59.60 L214.30 63.00 L211.60 66.40 L207.60 66.40 Z" fill="#fff"/>
<path d="M172.00 74.20 L173.40 71.20 L180.20 71.20 L181.60 74.20 L180.20 77.20 L173.40 77.20 Z" fill="#ee2722"/>
<path d="M188.40 74.20 L189.80 71.20 L196.60 71.20 L198.00 74.20 L196.60 77.20 L189.80 77.20 Z" fill="#ee2722"/>
<path d="M204.80 74.20 L206.20 71.20 L213.00 71.20 L214.40 74.20 L213.00 77.20 L206.20 77.20 Z" fill="#ee2722"/>
<path d="M221.20 74.20 L222.60 71.20 L229.40 71.20 L230.80 74.20 L229.40 77.20 L222.60 77.20 Z" fill="#ee2722"/>
<path d="M180.40 74.20 L183.10 70.80 L187.10 70.80 L189.80 74.20 L187.10 77.60 L183.10 77.60 Z" fill="#fff"/>
<path d="M196.70 74.20 L199.40 70.80 L203.40 70.80 L206.10 74.20 L203.40 77.60 L199.40 77.60 Z" fill="#fff"/>
<path d="M212.90 74.20 L215.60 70.80 L219.60 70.80 L222.30 74.20 L219.60 77.60 L215.60 77.60 Z" fill="#fff"/>
<path d="M180.30 84.90 L181.70 82.30 L188.50 82.30 L189.90 84.90 L188.50 87.50 L181.70 87.50 Z" fill="#ee2722"/>
<path d="M196.60 84.90 L198.00 82.30 L204.80 82.30 L206.20 84.90 L204.80 87.50 L198.00 87.50 Z" fill="#ee2722"/>
<path d="M212.80 84.90 L214.20 82.30 L221.00 82.30 L222.40 84.90 L221.00 87.50 L214.20 87.50 Z" fill="#ee2722"/>
</g>
<line x1="43.9" y1="202.3" x2="232.6" y2="36.2" stroke="#231f20" stroke-width="0.7"/>
<text x="245.40" y="21.00" font-size="12.4" fill="#ee2722" text-anchor="start" font-weight="normal" textLength="49.20" lengthAdjust="spacingAndGlyphs">Redox of</text>
<text x="232.00" y="35.70" font-size="12.4" fill="#ee2722" text-anchor="start" font-weight="normal" textLength="76.00" lengthAdjust="spacingAndGlyphs">lattice oxygen</text>
<text x="176.00" y="119.80" font-size="12.4" fill="#ee2722" text-anchor="start" font-weight="normal" textLength="96.00" lengthAdjust="spacingAndGlyphs">Redox of TM and</text>
<text x="185.50" y="134.60" font-size="12.4" fill="#ee2722" text-anchor="start" font-weight="normal" textLength="77.90" lengthAdjust="spacingAndGlyphs">lattice oxygen</text>
<text x="151.00" y="181.30" font-size="12.4" fill="#ee2722" text-anchor="start" font-weight="normal" textLength="71.30" lengthAdjust="spacingAndGlyphs">Redox of TM</text>
<text x="102.70" y="222.00" font-size="11.9" fill="#231f20" text-anchor="start" font-weight="normal" textLength="137.80" lengthAdjust="spacingAndGlyphs">Evolution of lattice oxygen</text>
<text transform="translate(34.6 191) rotate(-90)" font-size="12" fill="#231f20" textLength="148" lengthAdjust="spacingAndGlyphs">Available capacity/(mAh·g<tspan font-size="7.5" dy="-4">-1</tspan><tspan dy="4">)</tspan></text>
<line x1="289.8" y1="65.8" x2="271.9" y2="52.9" stroke="#62bb46" stroke-width="1.5"/>
<line x1="289.8" y1="65.8" x2="280.85" y2="59.35" stroke="#ee2722" stroke-width="1.6"/>
<circle cx="271.9" cy="52.9" r="3" fill="#62bb46"/>
<line x1="289.8" y1="65.8" x2="289.8" y2="52.9" stroke="#62bb46" stroke-width="1.5"/>
<line x1="289.8" y1="65.8" x2="289.80" y2="59.35" stroke="#ee2722" stroke-width="1.6"/>
<circle cx="289.8" cy="52.9" r="3" fill="#62bb46"/>
<line x1="289.8" y1="65.8" x2="308.1" y2="52.9" stroke="#62bb46" stroke-width="1.5"/>
<line x1="289.8" y1="65.8" x2="298.95" y2="59.35" stroke="#ee2722" stroke-width="1.6"/>
<circle cx="308.1" cy="52.9" r="3" fill="#62bb46"/>
<line x1="289.8" y1="65.8" x2="271.6" y2="78.8" stroke="#62bb46" stroke-width="1.5"/>
<line x1="289.8" y1="65.8" x2="280.70" y2="72.30" stroke="#ee2722" stroke-width="1.6"/>
<circle cx="271.6" cy="78.8" r="3" fill="#62bb46"/>
<line x1="289.8" y1="65.8" x2="289.8" y2="78.8" stroke="#62bb46" stroke-width="1.5"/>
<line x1="289.8" y1="65.8" x2="289.80" y2="72.30" stroke="#ee2722" stroke-width="1.6"/>
<circle cx="289.8" cy="78.8" r="3" fill="#62bb46"/>
<line x1="289.8" y1="65.8" x2="307.6" y2="78.8" stroke="#62bb46" stroke-width="1.5"/>
<line x1="289.8" y1="65.8" x2="298.70" y2="72.30" stroke="#ee2722" stroke-width="1.6"/>
<circle cx="307.6" cy="78.8" r="3" fill="#62bb46"/>
<rect x="286.80" y="62.80" width="6" height="6" rx="1.8" fill="#ee2722"/>
<line x1="289.6" y1="125.9" x2="273.8" y2="110.8" stroke="#62bb46" stroke-width="1.5"/>
<line x1="289.6" y1="125.9" x2="281.70" y2="118.35" stroke="#ee2722" stroke-width="1.6"/>
<circle cx="273.8" cy="110.8" r="2.8" fill="#62bb46"/>
<line x1="289.6" y1="125.9" x2="289.6" y2="110.8" stroke="#62bb46" stroke-width="1.5"/>
<line x1="289.6" y1="125.9" x2="289.60" y2="118.35" stroke="#ee2722" stroke-width="1.6"/>
<circle cx="289.6" cy="110.8" r="2.8" fill="#62bb46"/>
<line x1="289.6" y1="125.9" x2="306.3" y2="110.8" stroke="#62bb46" stroke-width="1.5"/>
<line x1="289.6" y1="125.9" x2="297.95" y2="118.35" stroke="#ee2722" stroke-width="1.6"/>
<circle cx="306.3" cy="110.8" r="2.8" fill="#62bb46"/>
<line x1="289.6" y1="125.9" x2="273.8" y2="137.5" stroke="#3a4fa3" stroke-width="1.5"/>
<line x1="289.6" y1="125.9" x2="281.70" y2="131.70" stroke="#ee2722" stroke-width="1.6"/>
<circle cx="273.8" cy="137.5" r="3.6" fill="#3a4fa3"/>
<line x1="289.6" y1="125.9" x2="289.6" y2="137.5" stroke="#62bb46" stroke-width="1.5"/>
<line x1="289.6" y1="125.9" x2="289.60" y2="131.70" stroke="#ee2722" stroke-width="1.6"/>
<circle cx="289.6" cy="137.5" r="2.6" fill="#62bb46"/>
<line x1="289.6" y1="125.9" x2="306" y2="137.5" stroke="#3a4fa3" stroke-width="1.5"/>
<line x1="289.6" y1="125.9" x2="297.80" y2="131.70" stroke="#ee2722" stroke-width="1.6"/>
<circle cx="306" cy="137.5" r="3.6" fill="#3a4fa3"/>
<rect x="286.60" y="122.90" width="6" height="6" rx="1.8" fill="#ee2722"/>
<line x1="288.5" y1="183.7" x2="272.7" y2="169.5" stroke="#62bb46" stroke-width="1.5"/>
<line x1="288.5" y1="183.7" x2="280.60" y2="176.60" stroke="#ee2722" stroke-width="1.6"/>
<circle cx="272.7" cy="169.5" r="2.8" fill="#62bb46"/>
<line x1="288.5" y1="183.7" x2="288.5" y2="169.5" stroke="#62bb46" stroke-width="1.5"/>
<line x1="288.5" y1="183.7" x2="288.50" y2="176.60" stroke="#ee2722" stroke-width="1.6"/>
<circle cx="288.5" cy="169.5" r="2.8" fill="#62bb46"/>
<line x1="288.5" y1="183.7" x2="304.7" y2="169.5" stroke="#62bb46" stroke-width="1.5"/>
<line x1="288.5" y1="183.7" x2="296.60" y2="176.60" stroke="#ee2722" stroke-width="1.6"/>
<circle cx="304.7" cy="169.5" r="2.8" fill="#62bb46"/>
<line x1="288.5" y1="183.7" x2="272.5" y2="195.6" stroke="#3a4fa3" stroke-width="1.5"/>
<line x1="288.5" y1="183.7" x2="280.50" y2="189.65" stroke="#ee2722" stroke-width="1.6"/>
<circle cx="272.5" cy="195.6" r="3.6" fill="#3a4fa3"/>
<line x1="288.5" y1="183.7" x2="288.5" y2="195.6" stroke="#3a4fa3" stroke-width="1.5"/>
<line x1="288.5" y1="183.7" x2="288.50" y2="189.65" stroke="#ee2722" stroke-width="1.6"/>
<circle cx="288.5" cy="195.6" r="3.6" fill="#3a4fa3"/>
<line x1="288.5" y1="183.7" x2="304.7" y2="195.6" stroke="#3a4fa3" stroke-width="1.5"/>
<line x1="288.5" y1="183.7" x2="296.60" y2="189.65" stroke="#ee2722" stroke-width="1.6"/>
<circle cx="304.7" cy="195.6" r="3.6" fill="#3a4fa3"/>
<rect x="285.50" y="180.70" width="6" height="6" rx="1.8" fill="#ee2722"/>
<text x="289.80" y="47.30" font-size="6.3" fill="#222" text-anchor="middle" font-weight="bold">Li</text>
<text x="289.80" y="87.40" font-size="6.3" fill="#222" text-anchor="middle" font-weight="bold">Li</text>
<text x="297.60" y="68.00" font-size="6.3" fill="#222" text-anchor="middle" font-weight="bold">O</text>
<text x="289.60" y="105.80" font-size="6.3" fill="#222" text-anchor="middle" font-weight="bold">Li</text>
<text x="289.60" y="146.00" font-size="6.3" fill="#222" text-anchor="middle" font-weight="bold">Li</text>
<text x="297.60" y="128.00" font-size="6.3" fill="#222" text-anchor="middle" font-weight="bold">O</text>
<text x="288.50" y="164.70" font-size="6.3" fill="#222" text-anchor="middle" font-weight="bold">Li</text>
<text x="296.40" y="185.80" font-size="6.3" fill="#222" text-anchor="middle" font-weight="bold">O</text>
</g>
<g id="panelB">
<text x="358.40" y="18.50" font-size="11.5" fill="#111" text-anchor="start" font-weight="bold">b</text>
<text x="459.60" y="40.80" font-size="12" fill="#231f20" text-anchor="start" font-weight="normal" textLength="43.90" lengthAdjust="spacingAndGlyphs">Li–O–Li</text>
<line x1="437.5" y1="119.5" x2="418.5" y2="85.5" stroke="#3a99ad" stroke-width="4.6"/>
<line x1="437.5" y1="119.5" x2="427.05" y2="100.80" stroke="#e8242a" stroke-width="4.8"/>
<line x1="437.5" y1="119.5" x2="398.7" y2="103.7" stroke="#3a99ad" stroke-width="4.6"/>
<line x1="437.5" y1="119.5" x2="417.12" y2="111.20" stroke="#e8242a" stroke-width="4.8"/>
<line x1="437.5" y1="119.5" x2="471.3" y2="77.9" stroke="#8cc63f" stroke-width="4.6"/>
<line x1="437.5" y1="119.5" x2="451.37" y2="102.43" stroke="#e8242a" stroke-width="4.8"/>
<line x1="437.5" y1="119.5" x2="478.9" y2="132.9" stroke="#8cc63f" stroke-width="4.6"/>
<line x1="437.5" y1="119.5" x2="458.43" y2="126.27" stroke="#e8242a" stroke-width="4.8"/>
<line x1="437.5" y1="119.5" x2="457.8" y2="154.5" stroke="#8cc63f" stroke-width="4.6"/>
<line x1="437.5" y1="119.5" x2="448.54" y2="138.53" stroke="#e8242a" stroke-width="4.8"/>
<line x1="437.5" y1="119.5" x2="400" y2="161.6" stroke="#8cc63f" stroke-width="4.6"/>
<line x1="437.5" y1="119.5" x2="422.87" y2="135.93" stroke="#e8242a" stroke-width="4.8"/>
<circle cx="418.5" cy="85.5" r="12.7" fill="url(#gTeal)"/>
<circle cx="398.7" cy="103.7" r="12.7" fill="url(#gTeal)"/>
<circle cx="471.3" cy="77.9" r="12.7" fill="url(#gLi)"/>
<circle cx="478.9" cy="132.9" r="12.7" fill="url(#gLi)"/>
<circle cx="457.8" cy="154.5" r="12.7" fill="url(#gLi)"/>
<circle cx="400" cy="161.6" r="12.7" fill="url(#gLi)"/>
<circle cx="437.5" cy="119.5" r="6.4" fill="url(#gO)"/>
<rect x="353.5" y="99.5" width="165" height="39" rx="9" fill="none" stroke="#f7b320" stroke-width="2.7" stroke-dasharray="6.4 3.2" transform="rotate(-49.3 436 119)"/>
<circle cx="513.3" cy="119" r="6.1" fill="url(#gO)"/>
<circle cx="514.4" cy="152.3" r="12.6" fill="url(#gTeal)"/>
<circle cx="515.5" cy="195.3" r="12.6" fill="url(#gLi)"/>
<text x="526.00" y="123.30" font-size="12" fill="#231f20" text-anchor="start" font-weight="normal">O</text>
<text x="528.30" y="156.40" font-size="12" fill="#231f20" text-anchor="start" font-weight="normal">Mn</text>
<text x="531.00" y="200.30" font-size="12" fill="#231f20" text-anchor="start" font-weight="normal">Li</text>
<path d="M556.6 55.40 C586.59 55.40 610.90 58.20 610.90 61.65 C610.90 65.10 586.59 67.90 556.6 67.90 Z" fill="#3a98a6"/>
<path d="M556.6 81.80 C570.08 81.80 581.00 84.53 581.00 87.90 C581.00 91.27 570.08 94.00 556.6 94.00 Z" fill="#3a98a6"/>
<path d="M556.6 102.30 C579.80 102.30 598.60 105.17 598.60 108.70 C598.60 112.23 579.80 115.10 556.6 115.10 Z" fill="#3a98a6"/>
<path d="M556.6 129.90 C585.54 129.90 609.00 132.36 609.00 135.40 C609.00 138.44 585.54 140.90 556.6 140.90 Z" fill="#3a98a6"/>
<path d="M556.6 120.30 C586.59 120.30 610.90 123.08 610.90 126.50 C610.90 129.92 586.59 132.70 556.6 132.70 Z" fill="#ee2722"/>
<path d="M556.6 153.20 C586.76 153.20 611.20 155.89 611.20 159.20 C611.20 162.51 586.76 165.20 556.6 165.20 Z" fill="#ee2722"/>
<path d="M556.6 178.90 C572.95 178.90 586.20 181.50 586.20 184.70 C586.20 187.90 572.95 190.50 556.6 190.50 Z" fill="#ee2722"/>
<path d="M556.6 195.00 C579.58 195.00 598.20 197.60 598.20 200.80 C598.20 204.00 579.58 206.60 556.6 206.60 Z" fill="#ee2722"/>
<linearGradient id="gb1s" x1="608.4" x2="656.4" y1="0" y2="0" gradientUnits="userSpaceOnUse"><stop offset="0" stop-color="#ee2722"/><stop offset="0.79" stop-color="#ee2722"/><stop offset="0.84" stop-color="#66b5c2"/><stop offset="1" stop-color="#66b5c2"/></linearGradient>
<linearGradient id="gb1" x1="608.4" x2="656.4" y1="0" y2="0" gradientUnits="userSpaceOnUse"><stop offset="0" stop-color="#ee2722"/><stop offset="0.18" stop-color="#ee2722"/><stop offset="0.23" stop-color="#66b5c2"/><stop offset="1" stop-color="#66b5c2"/></linearGradient>
<path d="M608.4 78.10 C635.19 78.10 656.90 80.43 656.90 83.30 C656.90 86.17 635.19 88.50 608.4 88.50 Z" fill="url(#gb1s)"/>
<path d="M608.4 93.00 C634.30 93.00 655.30 95.28 655.30 98.10 C655.30 100.92 634.30 103.20 608.4 103.20 Z" fill="url(#gb1)"/>
<line x1="556.6" y1="30" x2="556.6" y2="215.5" stroke="#231f20" stroke-width="1.1"/>
<path d="M556.6 25.8 L558.7 31.5 L554.5 31.5 Z" fill="#231f20"/>
<line x1="608.4" y1="63" x2="608.4" y2="118.4" stroke="#231f20" stroke-width="1.1"/>
<path d="M608.4 59.2 L610.4 64.4 L606.4 64.4 Z" fill="#231f20"/>
<line x1="590.3" y1="123.8" x2="612" y2="90.2" stroke="#f6b221" stroke-width="2"/>
<path d="M614.9 85.7 L614.6 93.6 L608.4 89.6 Z" fill="#f6b221"/>
<text x="561.5" y="131" font-size="12" fill="#231f20">O 2<tspan font-style="italic">p</tspan></text>
<text x="620.9" y="88.6" font-size="12" fill="#231f20">b1<tspan font-size="10" dy="-1.5">*</tspan></text>
<text x="625.90" y="103.30" font-size="12" fill="#231f20" text-anchor="start" font-weight="normal">b1</text>
</g>
<g id="panelC">
<text x="13.50" y="249.00" font-size="11.5" fill="#111" text-anchor="start" font-weight="bold">c</text>
<text x="27.40" y="260.90" font-size="12" fill="#231f20" text-anchor="start" font-weight="normal">Mn</text>
<text x="59.60" y="260.90" font-size="12" fill="#231f20" text-anchor="start" font-weight="normal">Ni</text>
<text x="88.00" y="260.90" font-size="12" fill="#231f20" text-anchor="start" font-weight="normal">Co</text>
<text x="299.20" y="260.00" font-size="12" fill="#231f20" text-anchor="start" font-weight="normal">Li</text>
<line x1="65.5" y1="305.5" x2="35" y2="276.6" stroke="#8d1b8f" stroke-width="3"/>
<line x1="65.5" y1="305.5" x2="49.64" y2="290.47" stroke="#e5232b" stroke-width="3.1"/>
<line x1="65.5" y1="305.5" x2="65.5" y2="276.6" stroke="#1d7a2e" stroke-width="3"/>
<line x1="65.5" y1="305.5" x2="65.50" y2="290.47" stroke="#e5232b" stroke-width="3.1"/>
<line x1="65.5" y1="305.5" x2="95.9" y2="276.6" stroke="#97591a" stroke-width="3"/>
<line x1="65.5" y1="305.5" x2="81.31" y2="290.47" stroke="#e5232b" stroke-width="3.1"/>
<line x1="65.5" y1="305.5" x2="35" y2="326.9" stroke="#35c3cc" stroke-width="3"/>
<line x1="65.5" y1="305.5" x2="49.64" y2="316.63" stroke="#e5232b" stroke-width="3.1"/>
<line x1="65.5" y1="305.5" x2="65.5" y2="326.9" stroke="#35c3cc" stroke-width="3"/>
<line x1="65.5" y1="305.5" x2="65.50" y2="316.63" stroke="#e5232b" stroke-width="3.1"/>
<line x1="65.5" y1="305.5" x2="95.9" y2="326.9" stroke="#35c3cc" stroke-width="3"/>
<line x1="65.5" y1="305.5" x2="81.31" y2="316.63" stroke="#e5232b" stroke-width="3.1"/>
<circle cx="35" cy="276.6" r="7.9" fill="url(#cPur)"/>
<circle cx="65.5" cy="276.6" r="7.9" fill="url(#cGrn)"/>
<circle cx="95.9" cy="276.6" r="7.9" fill="url(#cBrn)"/>
<circle cx="35" cy="326.9" r="7.9" fill="url(#cCyn)"/>
<circle cx="65.5" cy="326.9" r="7.9" fill="url(#cCyn)"/>
<circle cx="95.9" cy="326.9" r="7.9" fill="url(#cCyn)"/>
<circle cx="65.5" cy="305.5" r="8.2" fill="url(#cRed)"/>
<line x1="66.5" y1="404" x2="36.1" y2="375.3" stroke="#8d1b8f" stroke-width="3"/>
<line x1="66.5" y1="404" x2="50.69" y2="389.08" stroke="#e5232b" stroke-width="3.1"/>
<line x1="66.5" y1="404" x2="65.9" y2="375.3" stroke="#8d1b8f" stroke-width="3"/>
<line x1="66.5" y1="404" x2="66.19" y2="389.08" stroke="#e5232b" stroke-width="3.1"/>
<line x1="66.5" y1="404" x2="97.5" y2="375.3" stroke="#35c3cc" stroke-width="3"/>
<line x1="66.5" y1="404" x2="82.62" y2="389.08" stroke="#e5232b" stroke-width="3.1"/>
<line x1="66.5" y1="404" x2="35.5" y2="426" stroke="#35c3cc" stroke-width="3"/>
<line x1="66.5" y1="404" x2="50.38" y2="415.44" stroke="#e5232b" stroke-width="3.1"/>
<line x1="66.5" y1="404" x2="66.7" y2="426" stroke="#35c3cc" stroke-width="3"/>
<line x1="66.5" y1="404" x2="66.60" y2="415.44" stroke="#e5232b" stroke-width="3.1"/>
<line x1="66.5" y1="404" x2="97.5" y2="426" stroke="#35c3cc" stroke-width="3"/>
<line x1="66.5" y1="404" x2="82.62" y2="415.44" stroke="#e5232b" stroke-width="3.1"/>
<circle cx="36.1" cy="375.3" r="7.9" fill="url(#cPur)"/>
<circle cx="65.9" cy="375.3" r="7.9" fill="url(#cPur)"/>
<circle cx="97.5" cy="375.3" r="7.9" fill="url(#cCyn)"/>
<circle cx="35.5" cy="426" r="7.9" fill="url(#cCyn)"/>
<circle cx="66.7" cy="426" r="7.9" fill="url(#cCyn)"/>
<circle cx="97.5" cy="426" r="7.9" fill="url(#cCyn)"/>
<circle cx="66.5" cy="404" r="8.2" fill="url(#cRed)"/>
<line x1="164.8" y1="350.8" x2="134.6" y2="321.4" stroke="#97591a" stroke-width="3"/>
<line x1="164.8" y1="350.8" x2="149.10" y2="335.51" stroke="#e5232b" stroke-width="3.1"/>
<line x1="164.8" y1="350.8" x2="164.8" y2="321.4" stroke="#8d1b8f" stroke-width="3"/>
<line x1="164.8" y1="350.8" x2="164.80" y2="335.51" stroke="#e5232b" stroke-width="3.1"/>
<line x1="164.8" y1="350.8" x2="195.4" y2="321.4" stroke="#35c3cc" stroke-width="3"/>
<line x1="164.8" y1="350.8" x2="180.71" y2="335.51" stroke="#e5232b" stroke-width="3.1"/>
<line x1="164.8" y1="350.8" x2="134.6" y2="371.3" stroke="#35c3cc" stroke-width="3"/>
<line x1="164.8" y1="350.8" x2="149.10" y2="361.46" stroke="#e5232b" stroke-width="3.1"/>
<line x1="164.8" y1="350.8" x2="164.8" y2="371.3" stroke="#35c3cc" stroke-width="3"/>
<line x1="164.8" y1="350.8" x2="164.80" y2="361.46" stroke="#e5232b" stroke-width="3.1"/>
<line x1="164.8" y1="350.8" x2="195.4" y2="371.3" stroke="#35c3cc" stroke-width="3"/>
<line x1="164.8" y1="350.8" x2="180.71" y2="361.46" stroke="#e5232b" stroke-width="3.1"/>
<circle cx="134.6" cy="321.4" r="7.9" fill="url(#cBrn)"/>
<circle cx="164.8" cy="321.4" r="7.9" fill="url(#cPur)"/>
<circle cx="195.4" cy="321.4" r="7.9" fill="url(#cCyn)"/>
<circle cx="134.6" cy="371.3" r="7.9" fill="url(#cCyn)"/>
<circle cx="164.8" cy="371.3" r="7.9" fill="url(#cCyn)"/>
<circle cx="195.4" cy="371.3" r="7.9" fill="url(#cCyn)"/>
<circle cx="164.8" cy="350.8" r="8.2" fill="url(#cRed)"/>
<line x1="271.5" y1="309.3" x2="241.3" y2="281" stroke="#1d7a2e" stroke-width="3"/>
<line x1="271.5" y1="309.3" x2="255.80" y2="294.58" stroke="#e5232b" stroke-width="3.1"/>
<line x1="271.5" y1="309.3" x2="271.5" y2="281" stroke="#8d1b8f" stroke-width="3"/>
<line x1="271.5" y1="309.3" x2="271.50" y2="294.58" stroke="#e5232b" stroke-width="3.1"/>
<line x1="271.5" y1="309.3" x2="302.8" y2="281" stroke="#35c3cc" stroke-width="3"/>
<line x1="271.5" y1="309.3" x2="287.78" y2="294.58" stroke="#e5232b" stroke-width="3.1"/>
<line x1="271.5" y1="309.3" x2="242.7" y2="331.5" stroke="#35c3cc" stroke-width="3"/>
<line x1="271.5" y1="309.3" x2="256.52" y2="320.84" stroke="#e5232b" stroke-width="3.1"/>
<line x1="271.5" y1="309.3" x2="272.4" y2="331.5" stroke="#35c3cc" stroke-width="3"/>
<line x1="271.5" y1="309.3" x2="271.97" y2="320.84" stroke="#e5232b" stroke-width="3.1"/>
<line x1="271.5" y1="309.3" x2="302" y2="331.5" stroke="#35c3cc" stroke-width="3"/>
<line x1="271.5" y1="309.3" x2="287.36" y2="320.84" stroke="#e5232b" stroke-width="3.1"/>
<circle cx="241.3" cy="281" r="7.9" fill="url(#cGrn)"/>
<circle cx="271.5" cy="281" r="7.9" fill="url(#cPur)"/>
<circle cx="302.8" cy="281" r="7.9" fill="url(#cCyn)"/>
<circle cx="242.7" cy="331.5" r="7.9" fill="url(#cCyn)"/>
<circle cx="272.4" cy="331.5" r="7.9" fill="url(#cCyn)"/>
<circle cx="302" cy="331.5" r="7.9" fill="url(#cCyn)"/>
<circle cx="271.5" cy="309.3" r="8.2" fill="url(#cRed)"/>
<line x1="269.6" y1="404.1" x2="239.9" y2="375.3" stroke="#97591a" stroke-width="3"/>
<line x1="269.6" y1="404.1" x2="254.16" y2="389.12" stroke="#e5232b" stroke-width="3.1"/>
<line x1="269.6" y1="404.1" x2="269.6" y2="375.3" stroke="#97591a" stroke-width="3"/>
<line x1="269.6" y1="404.1" x2="269.60" y2="389.12" stroke="#e5232b" stroke-width="3.1"/>
<line x1="269.6" y1="404.1" x2="300.9" y2="375.3" stroke="#35c3cc" stroke-width="3"/>
<line x1="269.6" y1="404.1" x2="285.88" y2="389.12" stroke="#e5232b" stroke-width="3.1"/>
<line x1="269.6" y1="404.1" x2="239.9" y2="425.7" stroke="#35c3cc" stroke-width="3"/>
<line x1="269.6" y1="404.1" x2="254.16" y2="415.33" stroke="#e5232b" stroke-width="3.1"/>
<line x1="269.6" y1="404.1" x2="269.6" y2="425.7" stroke="#35c3cc" stroke-width="3"/>
<line x1="269.6" y1="404.1" x2="269.60" y2="415.33" stroke="#e5232b" stroke-width="3.1"/>
<line x1="269.6" y1="404.1" x2="300.9" y2="425.7" stroke="#35c3cc" stroke-width="3"/>
<line x1="269.6" y1="404.1" x2="285.88" y2="415.33" stroke="#e5232b" stroke-width="3.1"/>
<circle cx="239.9" cy="375.3" r="7.9" fill="url(#cBrn)"/>
<circle cx="269.6" cy="375.3" r="7.9" fill="url(#cBrn)"/>
<circle cx="300.9" cy="375.3" r="7.9" fill="url(#cCyn)"/>
<circle cx="239.9" cy="425.7" r="7.9" fill="url(#cCyn)"/>
<circle cx="269.6" cy="425.7" r="7.9" fill="url(#cCyn)"/>
<circle cx="300.9" cy="425.7" r="7.9" fill="url(#cCyn)"/>
<circle cx="269.6" cy="404.1" r="8.2" fill="url(#cRed)"/>
<rect x="8.60" y="388.45" width="116" height="22.5" rx="4.5" fill="none" stroke="#f3a853" stroke-width="1.4" stroke-dasharray="4 2.1" transform="rotate(-37.7 66.6 399.7)"/>
<rect x="110.70" y="331.45" width="116" height="22.5" rx="4.5" fill="none" stroke="#f3a853" stroke-width="1.4" stroke-dasharray="4 2.1" transform="rotate(-37.8 168.7 342.7)"/>
<rect x="213.70" y="298.00" width="113" height="23" rx="4.5" fill="none" stroke="#f3a853" stroke-width="1.4" stroke-dasharray="4 2.1" transform="rotate(-37.8 270.2 309.5)"/>
<rect x="212.80" y="389.50" width="113" height="23" rx="4.5" fill="none" stroke="#f3a853" stroke-width="1.4" stroke-dasharray="4 2.1" transform="rotate(-37.8 269.3 401)"/>
<rect x="26.4" y="449.3" width="284.3" height="16.7" fill="url(#bar)"/>
<text x="34.50" y="482.30" font-size="12" fill="#231f20" text-anchor="start" font-weight="normal">Stable</text>
<text x="262.00" y="485.30" font-size="12" fill="#231f20" text-anchor="start" font-weight="normal" textLength="48.70" lengthAdjust="spacingAndGlyphs">Unstable</text>
</g>
<g id="panelD">
<text x="356.20" y="257.40" font-size="11.5" fill="#111" text-anchor="start" font-weight="bold">d</text>
<text x="528.10" y="262.20" font-size="12" fill="#231f20" text-anchor="start" font-weight="normal" textLength="23.00" lengthAdjust="spacingAndGlyphs">LLO</text>
<text x="523.30" y="381.00" font-size="12" fill="#231f20" text-anchor="start" font-weight="normal" textLength="46.50" lengthAdjust="spacingAndGlyphs">HM-LLO</text>
<circle cx="421.60" cy="272" r="3.3" fill="url(#dO)"/>
<circle cx="437.30" cy="272" r="3.3" fill="url(#dO)"/>
<circle cx="455.27" cy="272" r="3.3" fill="url(#dO)"/>
<circle cx="473.24" cy="272" r="3.3" fill="url(#dO)"/>
<circle cx="491.21" cy="272" r="3.3" fill="url(#dO)"/>
<circle cx="509.18" cy="272" r="3.3" fill="url(#dO)"/>
<circle cx="527.15" cy="272" r="3.3" fill="url(#dO)"/>
<circle cx="545.12" cy="272" r="3.3" fill="url(#dO)"/>
<circle cx="563.09" cy="272" r="3.3" fill="url(#dO)"/>
<circle cx="581.06" cy="272" r="3.3" fill="url(#dO)"/>
<circle cx="599.03" cy="272" r="3.3" fill="url(#dO)"/>
<circle cx="617.00" cy="272" r="3.3" fill="url(#dO)"/>
<circle cx="634.97" cy="272" r="3.3" fill="url(#dO)"/>
<circle cx="653.00" cy="272" r="3.3" fill="url(#dO)"/>
<circle cx="421.60" cy="297" r="3.3" fill="url(#dO)"/>
<circle cx="437.30" cy="297" r="3.3" fill="url(#dO)"/>
<circle cx="455.27" cy="297" r="3.3" fill="url(#dO)"/>
<circle cx="473.24" cy="297" r="3.3" fill="url(#dO)"/>
<circle cx="491.21" cy="297" r="3.3" fill="url(#dO)"/>
<circle cx="509.18" cy="297" r="3.3" fill="url(#dO)"/>
<circle cx="527.15" cy="297" r="3.3" fill="url(#dO)"/>
<circle cx="545.12" cy="297" r="3.3" fill="url(#dO)"/>
<circle cx="563.09" cy="297" r="3.3" fill="url(#dO)"/>
<circle cx="581.06" cy="297" r="3.3" fill="url(#dO)"/>
<circle cx="599.03" cy="297" r="3.3" fill="url(#dO)"/>
<circle cx="617.00" cy="297" r="3.3" fill="url(#dO)"/>
<circle cx="634.97" cy="297" r="3.3" fill="url(#dO)"/>
<circle cx="653.00" cy="297" r="3.3" fill="url(#dO)"/>
<circle cx="421.60" cy="323" r="3.3" fill="url(#dO)"/>
<circle cx="437.30" cy="323" r="3.3" fill="url(#dO)"/>
<circle cx="455.27" cy="323" r="3.3" fill="url(#dO)"/>
<circle cx="473.24" cy="323" r="3.3" fill="url(#dO)"/>
<circle cx="491.21" cy="323" r="3.3" fill="url(#dO)"/>
<circle cx="509.18" cy="323" r="3.3" fill="url(#dO)"/>
<circle cx="527.15" cy="323" r="3.3" fill="url(#dO)"/>
<circle cx="545.12" cy="323" r="3.3" fill="url(#dO)"/>
<circle cx="563.09" cy="323" r="3.3" fill="url(#dO)"/>
<circle cx="581.06" cy="323" r="3.3" fill="url(#dO)"/>
<circle cx="599.03" cy="323" r="3.3" fill="url(#dO)"/>
<circle cx="617.00" cy="323" r="3.3" fill="url(#dO)"/>
<circle cx="634.97" cy="323" r="3.3" fill="url(#dO)"/>
<circle cx="653.00" cy="323" r="3.3" fill="url(#dO)"/>
<circle cx="421.60" cy="348.7" r="3.3" fill="url(#dO)"/>
<circle cx="437.30" cy="348.7" r="3.3" fill="url(#dO)"/>
<circle cx="455.27" cy="348.7" r="3.3" fill="url(#dO)"/>
<circle cx="473.24" cy="348.7" r="3.3" fill="url(#dO)"/>
<circle cx="491.21" cy="348.7" r="3.3" fill="url(#dO)"/>
<circle cx="509.18" cy="348.7" r="3.3" fill="url(#dO)"/>
<circle cx="527.15" cy="348.7" r="3.3" fill="url(#dO)"/>
<circle cx="545.12" cy="348.7" r="3.3" fill="url(#dO)"/>
<circle cx="563.09" cy="348.7" r="3.3" fill="url(#dO)"/>
<circle cx="581.06" cy="348.7" r="3.3" fill="url(#dO)"/>
<circle cx="599.03" cy="348.7" r="3.3" fill="url(#dO)"/>
<circle cx="617.00" cy="348.7" r="3.3" fill="url(#dO)"/>
<circle cx="634.97" cy="348.7" r="3.3" fill="url(#dO)"/>
<circle cx="653.00" cy="348.7" r="3.3" fill="url(#dO)"/>
<circle cx="437.30" cy="284.8" r="6.9" fill="url(#dLi)"/>
<circle cx="455.27" cy="284.8" r="6.9" fill="url(#dMn)"/>
<circle cx="473.24" cy="284.8" r="6.9" fill="url(#dMn)"/>
<circle cx="491.21" cy="284.8" r="6.9" fill="url(#dLi)"/>
<circle cx="509.18" cy="284.8" r="6.9" fill="url(#dNi)"/>
<circle cx="527.15" cy="284.8" r="6.9" fill="url(#dCo)"/>
<circle cx="545.12" cy="284.8" r="6.9" fill="url(#dMn)"/>
<circle cx="563.09" cy="284.8" r="6.9" fill="url(#dNi)"/>
<circle cx="581.06" cy="284.8" r="6.9" fill="url(#dCo)"/>
<circle cx="599.03" cy="284.8" r="6.9" fill="url(#dMn)"/>
<circle cx="617.00" cy="284.8" r="6.9" fill="url(#dNi)"/>
<circle cx="634.97" cy="284.8" r="6.9" fill="url(#dCo)"/>
<circle cx="437.30" cy="310" r="6.9" fill="url(#dLi)"/>
<circle cx="455.27" cy="310" r="6.9" fill="url(#dLi)"/>
<circle cx="473.24" cy="310" r="6.9" fill="url(#dLi)"/>
<circle cx="491.21" cy="310" r="6.9" fill="url(#dLi)"/>
<circle cx="509.18" cy="310" r="6.9" fill="url(#dLi)"/>
<circle cx="527.15" cy="310" r="6.9" fill="url(#dLi)"/>
<circle cx="545.12" cy="310" r="6.9" fill="url(#dLi)"/>
<circle cx="563.09" cy="310" r="6.9" fill="url(#dLi)"/>
<circle cx="581.06" cy="310" r="6.9" fill="url(#dLi)"/>
<circle cx="599.03" cy="310" r="6.9" fill="url(#dLi)"/>
<circle cx="617.00" cy="310" r="6.9" fill="url(#dLi)"/>
<circle cx="634.97" cy="310" r="6.9" fill="url(#dLi)"/>
<circle cx="437.30" cy="335.7" r="6.9" fill="url(#dMn)"/>
<circle cx="455.27" cy="335.7" r="6.9" fill="url(#dLi)"/>
<circle cx="473.24" cy="335.7" r="6.9" fill="url(#dMn)"/>
<circle cx="491.21" cy="335.7" r="6.9" fill="url(#dMn)"/>
<circle cx="509.18" cy="335.7" r="6.9" fill="url(#dLi)"/>
<circle cx="527.15" cy="335.7" r="6.9" fill="url(#dNi)"/>
<circle cx="545.12" cy="335.7" r="6.9" fill="url(#dCo)"/>
<circle cx="563.09" cy="335.7" r="6.9" fill="url(#dMn)"/>
<circle cx="581.06" cy="335.7" r="6.9" fill="url(#dNi)"/>
<circle cx="599.03" cy="335.7" r="6.9" fill="url(#dCo)"/>
<circle cx="617.00" cy="335.7" r="6.9" fill="url(#dMn)"/>
<circle cx="634.97" cy="335.7" r="6.9" fill="url(#dNi)"/>
<circle cx="421.60" cy="401.3" r="3.3" fill="url(#dO)"/>
<circle cx="437.30" cy="401.3" r="3.3" fill="url(#dO)"/>
<circle cx="455.27" cy="401.3" r="3.3" fill="url(#dO)"/>
<circle cx="473.24" cy="401.3" r="3.3" fill="url(#dO)"/>
<circle cx="491.21" cy="401.3" r="3.3" fill="url(#dO)"/>
<circle cx="509.18" cy="401.3" r="3.3" fill="url(#dO)"/>
<circle cx="527.15" cy="401.3" r="3.3" fill="url(#dO)"/>
<circle cx="545.12" cy="401.3" r="3.3" fill="url(#dO)"/>
<circle cx="563.09" cy="401.3" r="3.3" fill="url(#dO)"/>
<circle cx="581.06" cy="401.3" r="3.3" fill="url(#dO)"/>
<circle cx="599.03" cy="401.3" r="3.3" fill="url(#dO)"/>
<circle cx="617.00" cy="401.3" r="3.3" fill="url(#dO)"/>
<circle cx="634.97" cy="401.3" r="3.3" fill="url(#dO)"/>
<circle cx="653.00" cy="401.3" r="3.3" fill="url(#dO)"/>
<circle cx="421.60" cy="427.2" r="3.3" fill="url(#dO)"/>
<circle cx="437.30" cy="427.2" r="3.3" fill="url(#dO)"/>
<circle cx="455.27" cy="427.2" r="3.3" fill="url(#dO)"/>
<circle cx="473.24" cy="427.2" r="3.3" fill="url(#dO)"/>
<circle cx="491.21" cy="427.2" r="3.3" fill="url(#dO)"/>
<circle cx="509.18" cy="427.2" r="3.3" fill="url(#dO)"/>
<circle cx="527.15" cy="427.2" r="3.3" fill="url(#dO)"/>
<circle cx="545.12" cy="427.2" r="3.3" fill="url(#dO)"/>
<circle cx="563.09" cy="427.2" r="3.3" fill="url(#dO)"/>
<circle cx="581.06" cy="427.2" r="3.3" fill="url(#dO)"/>
<circle cx="599.03" cy="427.2" r="3.3" fill="url(#dO)"/>
<circle cx="617.00" cy="427.2" r="3.3" fill="url(#dO)"/>
<circle cx="634.97" cy="427.2" r="3.3" fill="url(#dO)"/>
<circle cx="653.00" cy="427.2" r="3.3" fill="url(#dO)"/>
<circle cx="421.60" cy="453.2" r="3.3" fill="url(#dO)"/>
<circle cx="437.30" cy="453.2" r="3.3" fill="url(#dO)"/>
<circle cx="455.27" cy="453.2" r="3.3" fill="url(#dO)"/>
<circle cx="473.24" cy="453.2" r="3.3" fill="url(#dO)"/>
<circle cx="491.21" cy="453.2" r="3.3" fill="url(#dO)"/>
<circle cx="509.18" cy="453.2" r="3.3" fill="url(#dO)"/>
<circle cx="527.15" cy="453.2" r="3.3" fill="url(#dO)"/>
<circle cx="545.12" cy="453.2" r="3.3" fill="url(#dO)"/>
<circle cx="563.09" cy="453.2" r="3.3" fill="url(#dO)"/>
<circle cx="581.06" cy="453.2" r="3.3" fill="url(#dO)"/>
<circle cx="599.03" cy="453.2" r="3.3" fill="url(#dO)"/>
<circle cx="617.00" cy="453.2" r="3.3" fill="url(#dO)"/>
<circle cx="634.97" cy="453.2" r="3.3" fill="url(#dO)"/>
<circle cx="653.00" cy="453.2" r="3.3" fill="url(#dO)"/>
<circle cx="421.60" cy="478.6" r="3.3" fill="url(#dO)"/>
<circle cx="437.30" cy="478.6" r="3.3" fill="url(#dO)"/>
<circle cx="455.27" cy="478.6" r="3.3" fill="url(#dO)"/>
<circle cx="473.24" cy="478.6" r="3.3" fill="url(#dO)"/>
<circle cx="491.21" cy="478.6" r="3.3" fill="url(#dO)"/>
<circle cx="509.18" cy="478.6" r="3.3" fill="url(#dO)"/>
<circle cx="527.15" cy="478.6" r="3.3" fill="url(#dO)"/>
<circle cx="545.12" cy="478.6" r="3.3" fill="url(#dO)"/>
<circle cx="563.09" cy="478.6" r="3.3" fill="url(#dO)"/>
<circle cx="581.06" cy="478.6" r="3.3" fill="url(#dO)"/>
<circle cx="599.03" cy="478.6" r="3.3" fill="url(#dO)"/>
<circle cx="617.00" cy="478.6" r="3.3" fill="url(#dO)"/>
<circle cx="634.97" cy="478.6" r="3.3" fill="url(#dO)"/>
<circle cx="653.00" cy="478.6" r="3.3" fill="url(#dO)"/>
<circle cx="437.30" cy="414.6" r="6.9" fill="url(#dLi)"/>
<circle cx="455.27" cy="414.6" r="6.9" fill="url(#dMn)"/>
<circle cx="473.24" cy="414.6" r="6.9" fill="url(#dMn)"/>
<circle cx="491.21" cy="414.6" r="6.9" fill="url(#dLi)"/>
<circle cx="509.18" cy="414.6" r="6.9" fill="url(#dMn)"/>
<circle cx="527.15" cy="414.6" r="6.9" fill="url(#dMn)"/>
<circle cx="545.12" cy="414.6" r="6.9" fill="url(#dLi)"/>
<circle cx="563.09" cy="414.6" r="6.9" fill="url(#dNi)"/>
<circle cx="581.06" cy="414.6" r="6.9" fill="url(#dCo)"/>
<circle cx="599.03" cy="414.6" r="6.9" fill="url(#dMn)"/>
<circle cx="617.00" cy="414.6" r="6.9" fill="url(#dNi)"/>
<circle cx="634.97" cy="414.6" r="6.9" fill="url(#dCo)"/>
<circle cx="437.30" cy="440.3" r="6.9" fill="url(#dLi)"/>
<circle cx="455.27" cy="440.3" r="6.9" fill="url(#dLi)"/>
<circle cx="473.24" cy="440.3" r="6.9" fill="url(#dLi)"/>
<circle cx="491.21" cy="440.3" r="6.9" fill="url(#dLi)"/>
<circle cx="509.18" cy="440.3" r="6.9" fill="url(#dLi)"/>
<circle cx="527.15" cy="440.3" r="6.9" fill="url(#dLi)"/>
<circle cx="545.12" cy="440.3" r="6.9" fill="url(#dLi)"/>
<circle cx="563.09" cy="440.3" r="6.9" fill="url(#dLi)"/>
<circle cx="581.06" cy="440.3" r="6.9" fill="url(#dLi)"/>
<circle cx="599.03" cy="440.3" r="6.9" fill="url(#dLi)"/>
<circle cx="617.00" cy="440.3" r="6.9" fill="url(#dLi)"/>
<circle cx="634.97" cy="440.3" r="6.9" fill="url(#dLi)"/>
<circle cx="437.30" cy="466" r="6.9" fill="url(#dMn)"/>
<circle cx="455.27" cy="466" r="6.9" fill="url(#dLi)"/>
<circle cx="473.24" cy="466" r="6.9" fill="url(#dMn)"/>
<circle cx="491.21" cy="466" r="6.9" fill="url(#dMn)"/>
<circle cx="509.18" cy="466" r="6.9" fill="url(#dLi)"/>
<circle cx="527.15" cy="466" r="6.9" fill="url(#dMn)"/>
<circle cx="545.12" cy="466" r="6.9" fill="url(#dMn)"/>
<circle cx="563.09" cy="466" r="6.9" fill="url(#dLi)"/>
<circle cx="581.06" cy="466" r="6.9" fill="url(#dNi)"/>
<circle cx="599.03" cy="466" r="6.9" fill="url(#dCo)"/>
<circle cx="617.00" cy="466" r="6.9" fill="url(#dMn)"/>
<circle cx="634.97" cy="466" r="6.9" fill="url(#dNi)"/>
<circle cx="383.3" cy="373.4" r="3.6" fill="url(#dO)"/>
<circle cx="383.3" cy="392.2" r="8" fill="url(#dMn)"/>
<circle cx="383.3" cy="417.6" r="8" fill="url(#dNi)"/>
<circle cx="383.3" cy="442.1" r="8" fill="url(#dCo)"/>
<circle cx="383.3" cy="465.1" r="8" fill="url(#dLi)"/>
<text x="396.70" y="376.60" font-size="12" fill="#231f20" text-anchor="start" font-weight="normal">O</text>
<text x="393.70" y="395.90" font-size="12" fill="#231f20" text-anchor="start" font-weight="normal">Mn</text>
<text x="395.20" y="420.70" font-size="12" fill="#231f20" text-anchor="start" font-weight="normal">Ni</text>
<text x="395.20" y="445.00" font-size="12" fill="#231f20" text-anchor="start" font-weight="normal">Co</text>
<text x="399.70" y="468.50" font-size="12" fill="#231f20" text-anchor="start" font-weight="normal">Li</text>
</g>
<g id="panelE">
<text x="13.30" y="521.70" font-size="11.5" fill="#111" text-anchor="start" font-weight="bold">e</text>
<text x="95.00" y="546.60" font-size="12" fill="#231f20" text-anchor="middle" font-weight="normal">LLO</text>
<text x="220.00" y="546.50" font-size="12" fill="#231f20" text-anchor="start" font-weight="normal" textLength="46.40" lengthAdjust="spacingAndGlyphs">HM-LLO</text>
<linearGradient id="fade" x1="0" x2="1" y1="0" y2="0"><stop offset="0" stop-color="#222222" stop-opacity="1"/><stop offset="0.2" stop-color="#222222" stop-opacity="0.93"/><stop offset="0.5" stop-color="#222222" stop-opacity="0.55"/><stop offset="0.8" stop-color="#222222" stop-opacity="0.14"/><stop offset="1" stop-color="#222222" stop-opacity="0"/></linearGradient>
<g clip-path="url(#clip1)">
<rect x="24" y="559" width="139.5" height="150.5" fill="url(#tem1)" filter="url(#b05)"/>
<rect x="24" y="559" width="90" height="150.5" fill="url(#vst)" mask="url(#mk1)"/>
<polygon points="22.0,557.0 74.0,557.0 75.0,563.0 76.4,569.0 77.9,575.0 79.4,581.0 80.8,587.0 82.3,593.0 83.8,599.0 84.8,605.0 85.7,611.0 86.5,617.0 87.5,623.0 88.3,629.0 89.2,635.0 90.0,641.0 90.0,647.0 90.0,653.0 90.0,659.0 90.0,665.0 90.0,671.0 90.0,677.0 90.0,683.0 90.0,689.0 91.0,695.0 92.3,701.0 93.5,707.0 94.0,711.5 22.0,711.5" fill="#222222" opacity="0.004"/>
<polygon points="22.0,557.0 71.7,557.0 72.6,563.0 73.9,569.0 75.2,575.0 76.5,581.0 77.9,587.0 79.2,593.0 80.5,599.0 81.4,605.0 82.3,611.0 83.1,617.0 83.9,623.0 84.7,629.0 85.5,635.0 86.3,641.0 86.3,647.0 86.3,653.0 86.3,659.0 86.4,665.0 86.4,671.0 86.4,677.0 86.5,683.0 86.6,689.0 87.6,695.0 88.9,701.0 90.1,707.0 90.6,711.5 22.0,711.5" fill="#222222" opacity="0.028"/>
<polygon points="22.0,557.0 69.4,557.0 70.2,563.0 71.4,569.0 72.6,575.0 73.7,581.0 74.9,587.0 76.1,593.0 77.3,599.0 78.1,605.0 78.9,611.0 79.6,617.0 80.3,623.0 81.0,629.0 81.8,635.0 82.5,641.0 82.6,647.0 82.6,653.0 82.7,659.0 82.7,665.0 82.8,671.0 82.8,677.0 83.0,683.0 83.2,689.0 84.2,695.0 85.5,701.0 86.8,707.0 87.3,711.5 22.0,711.5" fill="#222222" opacity="0.054"/>
<polygon points="22.0,557.0 67.1,557.0 67.8,563.0 68.9,569.0 69.9,575.0 70.9,581.0 72.0,587.0 73.1,593.0 74.1,599.0 74.8,605.0 75.5,611.0 76.1,617.0 76.7,623.0 77.4,629.0 78.1,635.0 78.8,641.0 78.9,647.0 78.9,653.0 79.0,659.0 79.1,665.0 79.2,671.0 79.2,677.0 79.4,683.0 79.7,689.0 80.9,695.0 82.1,701.0 83.4,707.0 83.9,711.5 22.0,711.5" fill="#222222" opacity="0.079"/>
<polygon points="22.0,557.0 64.9,557.0 65.4,563.0 66.3,569.0 67.2,575.0 68.1,581.0 69.0,587.0 70.0,593.0 70.9,599.0 71.5,605.0 72.1,611.0 72.6,617.0 73.2,623.0 73.7,629.0 74.4,635.0 75.0,641.0 75.1,647.0 75.3,653.0 75.4,659.0 75.5,665.0 75.6,671.0 75.7,677.0 75.9,683.0 76.3,689.0 77.5,695.0 78.7,701.0 80.0,707.0 80.6,711.5 22.0,711.5" fill="#222222" opacity="0.103"/>
<polygon points="22.0,557.0 62.6,557.0 63.1,563.0 63.8,569.0 64.5,575.0 65.3,581.0 66.1,587.0 66.9,593.0 67.7,599.0 68.2,605.0 68.7,611.0 69.1,617.0 69.6,623.0 70.0,629.0 70.7,635.0 71.3,641.0 71.4,647.0 71.6,653.0 71.7,659.0 71.8,665.0 72.0,671.0 72.1,677.0 72.4,683.0 72.9,689.0 74.1,695.0 75.4,701.0 76.7,707.0 77.2,711.5 22.0,711.5" fill="#222222" opacity="0.130"/>
<polygon points="22.0,557.0 60.3,557.0 60.7,563.0 61.3,569.0 61.9,575.0 62.5,581.0 63.2,587.0 63.8,593.0 64.5,599.0 64.9,605.0 65.3,611.0 65.6,617.0 66.0,623.0 66.4,629.0 67.0,635.0 67.6,641.0 67.7,647.0 67.9,653.0 68.0,659.0 68.2,665.0 68.3,671.0 68.5,677.0 68.9,683.0 69.5,689.0 70.7,695.0 72.0,701.0 73.3,707.0 73.9,711.5 22.0,711.5" fill="#222222" opacity="0.159"/>
<polygon points="22.0,557.0 58.0,557.0 58.3,563.0 58.7,569.0 59.2,575.0 59.7,581.0 60.2,587.0 60.8,593.0 61.3,599.0 61.6,605.0 61.9,611.0 62.2,617.0 62.4,623.0 62.7,629.0 63.3,635.0 63.8,641.0 64.0,647.0 64.2,653.0 64.4,659.0 64.5,665.0 64.7,671.0 64.9,677.0 65.4,683.0 66.1,689.0 67.3,695.0 68.6,701.0 69.9,707.0 70.5,711.5 22.0,711.5" fill="#222222" opacity="0.193"/>
<polygon points="22.0,557.0 55.7,557.0 55.9,563.0 56.2,569.0 56.5,575.0 56.8,581.0 57.3,587.0 57.7,593.0 58.1,599.0 58.3,605.0 58.5,611.0 58.7,617.0 58.9,623.0 59.0,629.0 59.6,635.0 60.1,641.0 60.3,647.0 60.5,653.0 60.7,659.0 60.9,665.0 61.1,671.0 61.3,677.0 61.8,683.0 62.6,689.0 63.9,695.0 65.2,701.0 66.6,707.0 67.1,711.5 22.0,711.5" fill="#222222" opacity="0.235"/>
<polygon points="22.0,557.0 53.4,557.0 53.5,563.0 53.7,569.0 53.8,575.0 54.0,581.0 54.3,587.0 54.6,593.0 54.9,599.0 55.0,605.0 55.1,611.0 55.2,617.0 55.3,623.0 55.4,629.0 55.9,635.0 56.4,641.0 56.6,647.0 56.8,653.0 57.0,659.0 57.3,665.0 57.5,671.0 57.7,677.0 58.3,683.0 59.2,689.0 60.5,695.0 61.9,701.0 63.2,707.0 63.8,711.5 22.0,711.5" fill="#222222" opacity="0.287"/>
<polygon points="22.0,557.0 51.1,557.0 51.1,563.0 51.2,569.0 51.2,575.0 51.2,581.0 51.4,587.0 51.5,593.0 51.7,599.0 51.7,605.0 51.7,611.0 51.7,617.0 51.7,623.0 51.7,629.0 52.1,635.0 52.6,641.0 52.9,647.0 53.1,653.0 53.4,659.0 53.6,665.0 53.9,671.0 54.2,677.0 54.8,683.0 55.8,689.0 57.1,695.0 58.5,701.0 59.9,707.0 60.4,711.5 22.0,711.5" fill="#222222" opacity="0.358"/>
<polygon points="22.0,557.0 48.9,557.0 48.8,563.0 48.6,569.0 48.5,575.0 48.4,581.0 48.4,587.0 48.4,593.0 48.5,599.0 48.4,605.0 48.3,611.0 48.2,617.0 48.1,623.0 48.1,629.0 48.4,635.0 48.9,641.0 49.2,647.0 49.4,653.0 49.7,659.0 50.0,665.0 50.3,671.0 50.6,677.0 51.3,683.0 52.4,689.0 53.7,695.0 55.1,701.0 56.5,707.0 57.1,711.5 22.0,711.5" fill="#222222" opacity="0.461"/>
<polygon points="22.0,557.0 46.6,557.0 46.4,563.0 46.1,569.0 45.8,575.0 45.6,581.0 45.5,587.0 45.4,593.0 45.3,599.0 45.1,605.0 44.9,611.0 44.7,617.0 44.6,623.0 44.4,629.0 44.7,635.0 45.1,641.0 45.4,647.0 45.8,653.0 46.1,659.0 46.4,665.0 46.7,671.0 47.0,677.0 47.8,683.0 49.0,689.0 50.3,695.0 51.7,701.0 53.1,707.0 53.7,711.5 22.0,711.5" fill="#222222" opacity="0.621"/>
<polygon points="22.0,557.0 44.3,557.0 44.0,563.0 43.6,569.0 43.1,575.0 42.8,581.0 42.5,587.0 42.3,593.0 42.1,599.0 41.8,605.0 41.5,611.0 41.3,617.0 41.0,623.0 40.7,629.0 41.0,635.0 41.4,641.0 41.7,647.0 42.1,653.0 42.4,659.0 42.7,665.0 43.1,671.0 43.4,677.0 44.2,683.0 45.6,689.0 46.9,695.0 48.4,701.0 49.8,707.0 50.4,711.5 22.0,711.5" fill="#222222" opacity="0.883"/>
<polygon points="22.0,557.0 42.0,557.0 41.6,563.0 41.0,569.0 40.5,575.0 39.9,581.0 39.6,587.0 39.2,593.0 38.9,599.0 38.5,605.0 38.1,611.0 37.8,617.0 37.4,623.0 37.1,629.0 37.3,635.0 37.7,641.0 38.0,647.0 38.4,653.0 38.7,659.0 39.1,665.0 39.5,671.0 39.8,677.0 40.7,683.0 42.1,689.0 43.6,695.0 45.0,701.0 46.4,707.0 47.0,711.5 22.0,711.5" fill="#222222"/>
<rect x="24" y="559" width="139.5" height="150.5" fill="url(#ov1)"/>
</g>
<path d="M35.8 574.5 L44.9 577.3 L35.8 580.1 Z" fill="#fff"/>
<path d="M92.5 613.6 L94 625 L95.6 636 L94.6 645 L95.6 656 L95.2 668 L96.4 680 L95.8 688 L97 698.6" fill="none" stroke="#dedede" stroke-width="0.8"/>
<rect x="132.6" y="685.4" width="25.8" height="2.5" fill="#fff"/>
<text x="131.80" y="681.30" font-size="12" fill="#fff" text-anchor="start" font-weight="normal" textLength="27.90" lengthAdjust="spacingAndGlyphs">2 nm</text>
<g clip-path="url(#clip2)">
<rect x="173" y="559" width="140" height="151" fill="url(#tem2)" filter="url(#b05)"/>
<polygon points="171.0,557.0 202.0,557.0 203.1,563.0 204.7,569.0 206.4,575.0 208.0,581.0 209.7,587.0 211.3,593.0 213.0,599.0 214.6,605.0 216.3,611.0 217.9,617.0 219.6,623.0 221.3,629.0 222.9,635.0 224.6,641.0 226.2,647.0 227.9,653.0 229.7,659.0 231.7,665.0 233.7,671.0 235.7,677.0 237.7,683.0 239.7,689.0 241.7,695.0 243.8,701.0 245.9,707.0 247.0,712.0 171.0,712.0" fill="#222222" opacity="0.004"/>
<polygon points="171.0,557.0 200.3,557.0 201.3,563.0 202.9,569.0 204.5,575.0 206.0,581.0 207.6,587.0 209.2,593.0 210.8,599.0 212.3,605.0 213.9,611.0 215.5,617.0 217.1,623.0 218.7,629.0 220.3,635.0 222.0,641.0 223.6,647.0 225.2,653.0 226.9,659.0 228.9,665.0 230.9,671.0 232.9,677.0 234.8,683.0 236.8,689.0 238.8,695.0 240.9,701.0 243.0,707.0 244.0,712.0 171.0,712.0" fill="#222222" opacity="0.028"/>
<polygon points="171.0,557.0 198.6,557.0 199.6,563.0 201.1,569.0 202.6,575.0 204.1,581.0 205.5,587.0 207.0,593.0 208.5,599.0 210.0,605.0 211.5,611.0 213.0,617.0 214.6,623.0 216.2,629.0 217.7,635.0 219.3,641.0 220.9,647.0 222.5,653.0 224.2,659.0 226.2,665.0 228.1,671.0 230.1,677.0 232.0,683.0 234.0,689.0 236.0,695.0 238.0,701.0 240.1,707.0 241.1,712.0 171.0,712.0" fill="#222222" opacity="0.054"/>
<polygon points="171.0,557.0 196.9,557.0 197.8,563.0 199.2,569.0 200.6,575.0 202.1,581.0 203.5,587.0 204.9,593.0 206.3,599.0 207.7,605.0 209.2,611.0 210.6,617.0 212.1,623.0 213.6,629.0 215.2,635.0 216.7,641.0 218.3,647.0 219.8,653.0 221.5,659.0 223.4,665.0 225.4,671.0 227.3,677.0 229.2,683.0 231.1,689.0 233.1,695.0 235.1,701.0 237.1,707.0 238.1,712.0 171.0,712.0" fill="#222222" opacity="0.079"/>
<polygon points="171.0,557.0 195.1,557.0 196.0,563.0 197.4,569.0 198.7,575.0 200.1,581.0 201.4,587.0 202.7,593.0 204.1,599.0 205.4,605.0 206.8,611.0 208.1,617.0 209.5,623.0 211.1,629.0 212.6,635.0 214.1,641.0 215.6,647.0 217.1,653.0 218.8,659.0 220.7,665.0 222.6,671.0 224.5,677.0 226.4,683.0 228.3,689.0 230.2,695.0 232.2,701.0 234.2,707.0 235.2,712.0 171.0,712.0" fill="#222222" opacity="0.103"/>
<polygon points="171.0,557.0 193.4,557.0 194.3,563.0 195.5,569.0 196.8,575.0 198.1,581.0 199.3,587.0 200.6,593.0 201.9,599.0 203.1,605.0 204.4,611.0 205.7,617.0 207.0,623.0 208.5,629.0 210.0,635.0 211.5,641.0 213.0,647.0 214.4,653.0 216.1,659.0 217.9,665.0 219.8,671.0 221.7,677.0 223.6,683.0 225.5,689.0 227.4,695.0 229.3,701.0 231.2,707.0 232.2,712.0 171.0,712.0" fill="#222222" opacity="0.130"/>
<polygon points="171.0,557.0 191.7,557.0 192.5,563.0 193.7,569.0 194.9,575.0 196.1,581.0 197.3,587.0 198.5,593.0 199.6,599.0 200.8,605.0 202.0,611.0 203.2,617.0 204.5,623.0 206.0,629.0 207.4,635.0 208.9,641.0 210.3,647.0 211.7,653.0 213.3,659.0 215.2,665.0 217.0,671.0 218.9,677.0 220.8,683.0 222.6,689.0 224.5,695.0 226.4,701.0 228.3,707.0 229.3,712.0 171.0,712.0" fill="#222222" opacity="0.159"/>
<polygon points="171.0,557.0 190.0,557.0 190.7,563.0 191.9,569.0 193.0,575.0 194.1,581.0 195.2,587.0 196.3,593.0 197.4,599.0 198.5,605.0 199.7,611.0 200.8,617.0 202.0,623.0 203.4,629.0 204.8,635.0 206.2,641.0 207.6,647.0 209.1,653.0 210.6,659.0 212.4,665.0 214.3,671.0 216.1,677.0 217.9,683.0 219.8,689.0 221.6,695.0 223.5,701.0 225.4,707.0 226.3,712.0 171.0,712.0" fill="#222222" opacity="0.193"/>
<polygon points="171.0,557.0 188.3,557.0 189.0,563.0 190.0,569.0 191.1,575.0 192.1,581.0 193.1,587.0 194.2,593.0 195.2,599.0 196.2,605.0 197.3,611.0 198.3,617.0 199.5,623.0 200.9,629.0 202.2,635.0 203.6,641.0 205.0,647.0 206.4,653.0 207.9,659.0 209.7,665.0 211.5,671.0 213.3,677.0 215.1,683.0 216.9,689.0 218.8,695.0 220.6,701.0 222.4,707.0 223.3,712.0 171.0,712.0" fill="#222222" opacity="0.235"/>
<polygon points="171.0,557.0 186.6,557.0 187.2,563.0 188.2,569.0 189.1,575.0 190.1,581.0 191.1,587.0 192.0,593.0 193.0,599.0 193.9,605.0 194.9,611.0 195.9,617.0 197.0,623.0 198.3,629.0 199.6,635.0 201.0,641.0 202.3,647.0 203.7,653.0 205.2,659.0 207.0,665.0 208.7,671.0 210.5,677.0 212.3,683.0 214.1,689.0 215.9,695.0 217.7,701.0 219.5,707.0 220.4,712.0 171.0,712.0" fill="#222222" opacity="0.287"/>
<polygon points="171.0,557.0 184.9,557.0 185.4,563.0 186.3,569.0 187.2,575.0 188.1,581.0 189.0,587.0 189.9,593.0 190.8,599.0 191.6,605.0 192.5,611.0 193.4,617.0 194.4,623.0 195.8,629.0 197.1,635.0 198.4,641.0 199.7,647.0 201.0,653.0 202.4,659.0 204.2,665.0 206.0,671.0 207.7,677.0 209.5,683.0 211.3,689.0 213.0,695.0 214.8,701.0 216.5,707.0 217.4,712.0 171.0,712.0" fill="#222222" opacity="0.358"/>
<polygon points="171.0,557.0 183.1,557.0 183.7,563.0 184.5,569.0 185.3,575.0 186.1,581.0 186.9,587.0 187.7,593.0 188.5,599.0 189.3,605.0 190.2,611.0 191.0,617.0 191.9,623.0 193.2,629.0 194.5,635.0 195.8,641.0 197.0,647.0 198.3,653.0 199.7,659.0 201.5,665.0 203.2,671.0 204.9,677.0 206.7,683.0 208.4,689.0 210.1,695.0 211.9,701.0 213.6,707.0 214.5,712.0 171.0,712.0" fill="#222222" opacity="0.461"/>
<polygon points="171.0,557.0 181.4,557.0 181.9,563.0 182.7,569.0 183.4,575.0 184.1,581.0 184.8,587.0 185.6,593.0 186.3,599.0 187.0,605.0 187.8,611.0 188.5,617.0 189.4,623.0 190.7,629.0 191.9,635.0 193.1,641.0 194.4,647.0 195.6,653.0 197.0,659.0 198.7,665.0 200.4,671.0 202.1,677.0 203.9,683.0 205.6,689.0 207.3,695.0 209.0,701.0 210.7,707.0 211.5,712.0 171.0,712.0" fill="#222222" opacity="0.621"/>
<polygon points="171.0,557.0 179.7,557.0 180.2,563.0 180.8,569.0 181.5,575.0 182.1,581.0 182.8,587.0 183.4,593.0 184.1,599.0 184.7,605.0 185.4,611.0 186.1,617.0 186.9,623.0 188.1,629.0 189.3,635.0 190.5,641.0 191.7,647.0 192.9,653.0 194.3,659.0 196.0,665.0 197.7,671.0 199.3,677.0 201.0,683.0 202.7,689.0 204.4,695.0 206.1,701.0 207.7,707.0 208.6,712.0 171.0,712.0" fill="#222222" opacity="0.883"/>
<polygon points="171.0,557.0 178.0,557.0 178.4,563.0 179.0,569.0 179.5,575.0 180.1,581.0 180.7,587.0 181.3,593.0 181.9,599.0 182.5,605.0 183.0,611.0 183.6,617.0 184.4,623.0 185.6,629.0 186.7,635.0 187.9,641.0 189.1,647.0 190.2,653.0 191.6,659.0 193.2,665.0 194.9,671.0 196.6,677.0 198.2,683.0 199.9,689.0 201.5,695.0 203.2,701.0 204.8,707.0 205.6,712.0 171.0,712.0" fill="#222222"/>
<rect x="173" y="559" width="140" height="151" fill="url(#ov2)"/>
</g>
<path d="M275.4 647.8 L276.4 655 L277.8 660.4 L274.4 668 L272 677.5 L274.6 688 L277.8 698 L280 709.3" fill="none" stroke="#e6e6e6" stroke-width="0.85"/>
<rect x="280.8" y="684.7" width="25.2" height="2.5" fill="#fff"/>
<text x="280.00" y="680.50" font-size="12" fill="#fff" text-anchor="start" font-weight="normal" textLength="27.00" lengthAdjust="spacingAndGlyphs">2 nm</text>
<text x="48.2" y="746" font-size="12" fill="#231f20" textLength="98" lengthAdjust="spacingAndGlyphs">Less <tspan font-style="italic">C</tspan>2/<tspan font-style="italic">m</tspan> phase</text>
<text x="195.4" y="746" font-size="12" fill="#231f20" textLength="99.6" lengthAdjust="spacingAndGlyphs">More <tspan font-style="italic">C</tspan>2/<tspan font-style="italic">m</tspan> phase</text>
</g>
<g id="panelF">
<text x="362.60" y="529.40" font-size="11.5" fill="#111" text-anchor="start" font-weight="bold">f</text>
<rect x="432.5" y="532.6" width="224.10" height="180.00" fill="none" stroke="#231f20" stroke-width="1.2"/>
<line x1="428.8" y1="532.85" x2="432.5" y2="532.85" stroke="#231f20" stroke-width="1"/>
<text x="422.40" y="541.60" font-size="12" fill="#231f20" text-anchor="end" font-weight="normal">5000</text>
<line x1="428.8" y1="565.52" x2="432.5" y2="565.52" stroke="#231f20" stroke-width="1"/>
<text x="422.40" y="570.90" font-size="12" fill="#231f20" text-anchor="end" font-weight="normal">4000</text>
<line x1="428.8" y1="598.19" x2="432.5" y2="598.19" stroke="#231f20" stroke-width="1"/>
<text x="422.40" y="603.10" font-size="12" fill="#231f20" text-anchor="end" font-weight="normal">3000</text>
<line x1="428.8" y1="630.86" x2="432.5" y2="630.86" stroke="#231f20" stroke-width="1"/>
<text x="422.40" y="636.70" font-size="12" fill="#231f20" text-anchor="end" font-weight="normal">2000</text>
<line x1="428.8" y1="663.53" x2="432.5" y2="663.53" stroke="#231f20" stroke-width="1"/>
<text x="422.40" y="669.10" font-size="12" fill="#231f20" text-anchor="end" font-weight="normal">1000</text>
<line x1="428.8" y1="696.20" x2="432.5" y2="696.20" stroke="#231f20" stroke-width="1"/>
<text x="419.80" y="700.80" font-size="12" fill="#231f20" text-anchor="end" font-weight="normal">0</text>
<line x1="432.50" y1="712.6" x2="432.50" y2="715.8000000000001" stroke="#231f20" stroke-width="1"/>
<text x="426.70" y="731.40" font-size="12" fill="#231f20" text-anchor="middle" font-weight="normal">2.0</text>
<line x1="469.85" y1="712.6" x2="469.85" y2="715.8000000000001" stroke="#231f20" stroke-width="1"/>
<text x="466.30" y="731.40" font-size="12" fill="#231f20" text-anchor="middle" font-weight="normal">2.5</text>
<line x1="507.20" y1="712.6" x2="507.20" y2="715.8000000000001" stroke="#231f20" stroke-width="1"/>
<text x="500.80" y="731.70" font-size="12" fill="#231f20" text-anchor="middle" font-weight="normal">3.0</text>
<line x1="544.55" y1="712.6" x2="544.55" y2="715.8000000000001" stroke="#231f20" stroke-width="1"/>
<text x="540.40" y="729.80" font-size="12" fill="#231f20" text-anchor="middle" font-weight="normal">3.5</text>
<line x1="581.90" y1="712.6" x2="581.90" y2="715.8000000000001" stroke="#231f20" stroke-width="1"/>
<text x="577.60" y="731.70" font-size="12" fill="#231f20" text-anchor="middle" font-weight="normal">4.0</text>
<line x1="619.25" y1="712.6" x2="619.25" y2="715.8000000000001" stroke="#231f20" stroke-width="1"/>
<text x="613.40" y="731.70" font-size="12" fill="#231f20" text-anchor="middle" font-weight="normal">4.5</text>
<line x1="656.60" y1="712.6" x2="656.60" y2="715.8000000000001" stroke="#231f20" stroke-width="1"/>
<text x="641.60" y="729.80" font-size="12" fill="#231f20" text-anchor="middle" font-weight="normal">5.0</text>
<text x="507.00" y="751.20" font-size="12" fill="#231f20" text-anchor="start" font-weight="normal" textLength="59.60" lengthAdjust="spacingAndGlyphs">Voltage/(V)</text>
<text transform="translate(386 665.6) rotate(-90)" font-size="12" fill="#231f20" textLength="88" lengthAdjust="spacingAndGlyphs">dQ/dV/(mAh·V<tspan font-size="7" dy="-4">-1</tspan><tspan dy="4">)</tspan></text>
<circle cx="448.40" cy="568.40" r="2.1" fill="#e8262a"/>
<circle cx="448.10" cy="568.10" r="0.5" fill="#ff9a90"/>
<circle cx="448.40" cy="589.10" r="2.1" fill="#3a4ba8"/>
<circle cx="448.10" cy="588.80" r="0.55" fill="#c9d0f0"/>
<text x="458.00" y="570.90" font-size="12" fill="#231f20" text-anchor="start" font-weight="normal" textLength="23.50" lengthAdjust="spacingAndGlyphs">LLO</text>
<text x="458.00" y="593.90" font-size="12" fill="#231f20" text-anchor="start" font-weight="normal" textLength="47.40" lengthAdjust="spacingAndGlyphs">HM-LLO</text>
<circle cx="432.50" cy="696.20" r="1.8" fill="#e8262a"/>
<circle cx="432.20" cy="695.90" r="0.5" fill="#ff9a90"/>
<circle cx="433.99" cy="696.20" r="1.8" fill="#e8262a"/>
<circle cx="433.69" cy="695.90" r="0.5" fill="#ff9a90"/>
<circle cx="435.49" cy="696.20" r="1.8" fill="#e8262a"/>
<circle cx="435.19" cy="695.90" r="0.5" fill="#ff9a90"/>
<circle cx="436.98" cy="696.20" r="1.8" fill="#e8262a"/>
<circle cx="436.68" cy="695.90" r="0.5" fill="#ff9a90"/>
<circle cx="438.48" cy="696.21" r="1.8" fill="#e8262a"/>
<circle cx="438.18" cy="695.91" r="0.5" fill="#ff9a90"/>
<circle cx="439.97" cy="696.21" r="1.8" fill="#e8262a"/>
<circle cx="439.67" cy="695.91" r="0.5" fill="#ff9a90"/>
<circle cx="441.46" cy="696.21" r="1.8" fill="#e8262a"/>
<circle cx="441.16" cy="695.91" r="0.5" fill="#ff9a90"/>
<circle cx="442.96" cy="696.22" r="1.8" fill="#e8262a"/>
<circle cx="442.66" cy="695.92" r="0.5" fill="#ff9a90"/>
<circle cx="444.45" cy="696.22" r="1.8" fill="#e8262a"/>
<circle cx="444.15" cy="695.92" r="0.5" fill="#ff9a90"/>
<circle cx="445.95" cy="696.23" r="1.8" fill="#e8262a"/>
<circle cx="445.65" cy="695.93" r="0.5" fill="#ff9a90"/>
<circle cx="447.44" cy="696.23" r="1.8" fill="#e8262a"/>
<circle cx="447.14" cy="695.93" r="0.5" fill="#ff9a90"/>
<circle cx="448.93" cy="696.24" r="1.8" fill="#e8262a"/>
<circle cx="448.63" cy="695.94" r="0.5" fill="#ff9a90"/>
<circle cx="450.43" cy="696.24" r="1.8" fill="#e8262a"/>
<circle cx="450.13" cy="695.94" r="0.5" fill="#ff9a90"/>
<circle cx="451.92" cy="696.25" r="1.8" fill="#e8262a"/>
<circle cx="451.62" cy="695.95" r="0.5" fill="#ff9a90"/>
<circle cx="453.42" cy="696.26" r="1.8" fill="#e8262a"/>
<circle cx="453.12" cy="695.96" r="0.5" fill="#ff9a90"/>
<circle cx="454.91" cy="696.26" r="1.8" fill="#e8262a"/>
<circle cx="454.61" cy="695.96" r="0.5" fill="#ff9a90"/>
<circle cx="456.40" cy="696.27" r="1.8" fill="#e8262a"/>
<circle cx="456.10" cy="695.97" r="0.5" fill="#ff9a90"/>
<circle cx="457.90" cy="696.28" r="1.8" fill="#e8262a"/>
<circle cx="457.60" cy="695.98" r="0.5" fill="#ff9a90"/>
<circle cx="459.39" cy="696.29" r="1.8" fill="#e8262a"/>
<circle cx="459.09" cy="695.99" r="0.5" fill="#ff9a90"/>
<circle cx="460.89" cy="696.29" r="1.8" fill="#e8262a"/>
<circle cx="460.59" cy="695.99" r="0.5" fill="#ff9a90"/>
<circle cx="462.38" cy="696.30" r="1.8" fill="#e8262a"/>
<circle cx="462.08" cy="696.00" r="0.5" fill="#ff9a90"/>
<circle cx="463.87" cy="696.31" r="1.8" fill="#e8262a"/>
<circle cx="463.57" cy="696.01" r="0.5" fill="#ff9a90"/>
<circle cx="465.37" cy="696.31" r="1.8" fill="#e8262a"/>
<circle cx="465.07" cy="696.01" r="0.5" fill="#ff9a90"/>
<circle cx="466.86" cy="696.32" r="1.8" fill="#e8262a"/>
<circle cx="466.56" cy="696.02" r="0.5" fill="#ff9a90"/>
<circle cx="468.36" cy="696.33" r="1.8" fill="#e8262a"/>
<circle cx="468.06" cy="696.03" r="0.5" fill="#ff9a90"/>
<circle cx="469.85" cy="696.33" r="1.8" fill="#e8262a"/>
<circle cx="469.55" cy="696.03" r="0.5" fill="#ff9a90"/>
<circle cx="471.34" cy="696.34" r="1.8" fill="#e8262a"/>
<circle cx="471.04" cy="696.04" r="0.5" fill="#ff9a90"/>
<circle cx="472.84" cy="696.34" r="1.8" fill="#e8262a"/>
<circle cx="472.54" cy="696.04" r="0.5" fill="#ff9a90"/>
<circle cx="474.33" cy="696.35" r="1.8" fill="#e8262a"/>
<circle cx="474.03" cy="696.05" r="0.5" fill="#ff9a90"/>
<circle cx="475.83" cy="696.35" r="1.8" fill="#e8262a"/>
<circle cx="475.53" cy="696.05" r="0.5" fill="#ff9a90"/>
<circle cx="477.32" cy="696.35" r="1.8" fill="#e8262a"/>
<circle cx="477.02" cy="696.05" r="0.5" fill="#ff9a90"/>
<circle cx="478.81" cy="696.36" r="1.8" fill="#e8262a"/>
<circle cx="478.51" cy="696.06" r="0.5" fill="#ff9a90"/>
<circle cx="480.31" cy="696.36" r="1.8" fill="#e8262a"/>
<circle cx="480.01" cy="696.06" r="0.5" fill="#ff9a90"/>
<circle cx="481.80" cy="696.36" r="1.8" fill="#e8262a"/>
<circle cx="481.50" cy="696.06" r="0.5" fill="#ff9a90"/>
<circle cx="483.30" cy="696.36" r="1.8" fill="#e8262a"/>
<circle cx="483.00" cy="696.06" r="0.5" fill="#ff9a90"/>
<circle cx="484.79" cy="696.36" r="1.8" fill="#e8262a"/>
<circle cx="484.49" cy="696.06" r="0.5" fill="#ff9a90"/>
<circle cx="486.28" cy="696.40" r="1.8" fill="#e8262a"/>
<circle cx="485.98" cy="696.10" r="0.5" fill="#ff9a90"/>
<circle cx="487.78" cy="696.48" r="1.8" fill="#e8262a"/>
<circle cx="487.48" cy="696.18" r="0.5" fill="#ff9a90"/>
<circle cx="489.27" cy="696.61" r="1.8" fill="#e8262a"/>
<circle cx="488.97" cy="696.31" r="0.5" fill="#ff9a90"/>
<circle cx="490.77" cy="696.77" r="1.8" fill="#e8262a"/>
<circle cx="490.47" cy="696.47" r="0.5" fill="#ff9a90"/>
<circle cx="492.26" cy="696.94" r="1.8" fill="#e8262a"/>
<circle cx="491.96" cy="696.64" r="0.5" fill="#ff9a90"/>
<circle cx="493.75" cy="697.10" r="1.8" fill="#e8262a"/>
<circle cx="493.45" cy="696.80" r="0.5" fill="#ff9a90"/>
<circle cx="495.25" cy="697.26" r="1.8" fill="#e8262a"/>
<circle cx="494.95" cy="696.96" r="0.5" fill="#ff9a90"/>
<circle cx="496.74" cy="697.39" r="1.8" fill="#e8262a"/>
<circle cx="496.44" cy="697.09" r="0.5" fill="#ff9a90"/>
<circle cx="498.24" cy="697.47" r="1.8" fill="#e8262a"/>
<circle cx="497.94" cy="697.17" r="0.5" fill="#ff9a90"/>
<circle cx="499.73" cy="697.51" r="1.8" fill="#e8262a"/>
<circle cx="499.43" cy="697.21" r="0.5" fill="#ff9a90"/>
<circle cx="501.22" cy="697.63" r="1.8" fill="#e8262a"/>
<circle cx="500.92" cy="697.33" r="0.5" fill="#ff9a90"/>
<circle cx="502.72" cy="697.95" r="1.8" fill="#e8262a"/>
<circle cx="502.42" cy="697.65" r="0.5" fill="#ff9a90"/>
<circle cx="504.21" cy="698.42" r="1.8" fill="#e8262a"/>
<circle cx="503.91" cy="698.12" r="0.5" fill="#ff9a90"/>
<circle cx="505.71" cy="699.00" r="1.8" fill="#e8262a"/>
<circle cx="505.41" cy="698.70" r="0.5" fill="#ff9a90"/>
<circle cx="507.20" cy="699.63" r="1.8" fill="#e8262a"/>
<circle cx="506.90" cy="699.33" r="0.5" fill="#ff9a90"/>
<circle cx="508.69" cy="700.26" r="1.8" fill="#e8262a"/>
<circle cx="508.39" cy="699.96" r="0.5" fill="#ff9a90"/>
<circle cx="510.19" cy="700.84" r="1.8" fill="#e8262a"/>
<circle cx="509.89" cy="700.54" r="0.5" fill="#ff9a90"/>
<circle cx="511.68" cy="701.31" r="1.8" fill="#e8262a"/>
<circle cx="511.38" cy="701.01" r="0.5" fill="#ff9a90"/>
<circle cx="513.18" cy="701.63" r="1.8" fill="#e8262a"/>
<circle cx="512.88" cy="701.33" r="0.5" fill="#ff9a90"/>
<circle cx="514.67" cy="701.75" r="1.8" fill="#e8262a"/>
<circle cx="514.37" cy="701.45" r="0.5" fill="#ff9a90"/>
<circle cx="516.16" cy="701.85" r="1.8" fill="#e8262a"/>
<circle cx="515.86" cy="701.55" r="0.5" fill="#ff9a90"/>
<circle cx="517.66" cy="702.11" r="1.8" fill="#e8262a"/>
<circle cx="517.36" cy="701.81" r="0.5" fill="#ff9a90"/>
<circle cx="519.15" cy="702.49" r="1.8" fill="#e8262a"/>
<circle cx="518.85" cy="702.19" r="0.5" fill="#ff9a90"/>
<circle cx="520.65" cy="702.96" r="1.8" fill="#e8262a"/>
<circle cx="520.35" cy="702.66" r="0.5" fill="#ff9a90"/>
<circle cx="522.14" cy="703.47" r="1.8" fill="#e8262a"/>
<circle cx="521.84" cy="703.17" r="0.5" fill="#ff9a90"/>
<circle cx="523.63" cy="703.98" r="1.8" fill="#e8262a"/>
<circle cx="523.33" cy="703.68" r="0.5" fill="#ff9a90"/>
<circle cx="525.13" cy="704.44" r="1.8" fill="#e8262a"/>
<circle cx="524.83" cy="704.14" r="0.5" fill="#ff9a90"/>
<circle cx="526.62" cy="704.83" r="1.8" fill="#e8262a"/>
<circle cx="526.32" cy="704.53" r="0.5" fill="#ff9a90"/>
<circle cx="528.12" cy="705.09" r="1.8" fill="#e8262a"/>
<circle cx="527.82" cy="704.79" r="0.5" fill="#ff9a90"/>
<circle cx="529.61" cy="705.18" r="1.8" fill="#e8262a"/>
<circle cx="529.31" cy="704.88" r="0.5" fill="#ff9a90"/>
<circle cx="531.10" cy="705.18" r="1.8" fill="#e8262a"/>
<circle cx="530.80" cy="704.88" r="0.5" fill="#ff9a90"/>
<circle cx="532.60" cy="705.15" r="1.8" fill="#e8262a"/>
<circle cx="532.30" cy="704.85" r="0.5" fill="#ff9a90"/>
<circle cx="534.09" cy="705.11" r="1.8" fill="#e8262a"/>
<circle cx="533.79" cy="704.81" r="0.5" fill="#ff9a90"/>
<circle cx="535.59" cy="705.07" r="1.8" fill="#e8262a"/>
<circle cx="535.29" cy="704.77" r="0.5" fill="#ff9a90"/>
<circle cx="537.08" cy="705.02" r="1.8" fill="#e8262a"/>
<circle cx="536.78" cy="704.72" r="0.5" fill="#ff9a90"/>
<circle cx="538.57" cy="704.97" r="1.8" fill="#e8262a"/>
<circle cx="538.27" cy="704.67" r="0.5" fill="#ff9a90"/>
<circle cx="540.07" cy="704.93" r="1.8" fill="#e8262a"/>
<circle cx="539.77" cy="704.63" r="0.5" fill="#ff9a90"/>
<circle cx="541.56" cy="704.89" r="1.8" fill="#e8262a"/>
<circle cx="541.26" cy="704.59" r="0.5" fill="#ff9a90"/>
<circle cx="543.06" cy="704.87" r="1.8" fill="#e8262a"/>
<circle cx="542.76" cy="704.57" r="0.5" fill="#ff9a90"/>
<circle cx="544.55" cy="704.86" r="1.8" fill="#e8262a"/>
<circle cx="544.25" cy="704.56" r="0.5" fill="#ff9a90"/>
<circle cx="546.04" cy="704.83" r="1.8" fill="#e8262a"/>
<circle cx="545.74" cy="704.53" r="0.5" fill="#ff9a90"/>
<circle cx="547.54" cy="704.75" r="1.8" fill="#e8262a"/>
<circle cx="547.24" cy="704.45" r="0.5" fill="#ff9a90"/>
<circle cx="549.03" cy="704.64" r="1.8" fill="#e8262a"/>
<circle cx="548.73" cy="704.34" r="0.5" fill="#ff9a90"/>
<circle cx="550.53" cy="704.49" r="1.8" fill="#e8262a"/>
<circle cx="550.23" cy="704.19" r="0.5" fill="#ff9a90"/>
<circle cx="552.02" cy="704.31" r="1.8" fill="#e8262a"/>
<circle cx="551.72" cy="704.01" r="0.5" fill="#ff9a90"/>
<circle cx="553.51" cy="704.11" r="1.8" fill="#e8262a"/>
<circle cx="553.21" cy="703.81" r="0.5" fill="#ff9a90"/>
<circle cx="555.01" cy="703.90" r="1.8" fill="#e8262a"/>
<circle cx="554.71" cy="703.60" r="0.5" fill="#ff9a90"/>
<circle cx="556.50" cy="703.69" r="1.8" fill="#e8262a"/>
<circle cx="556.20" cy="703.39" r="0.5" fill="#ff9a90"/>
<circle cx="558.00" cy="703.48" r="1.8" fill="#e8262a"/>
<circle cx="557.70" cy="703.18" r="0.5" fill="#ff9a90"/>
<circle cx="559.49" cy="703.28" r="1.8" fill="#e8262a"/>
<circle cx="559.19" cy="702.98" r="0.5" fill="#ff9a90"/>
<circle cx="560.98" cy="703.11" r="1.8" fill="#e8262a"/>
<circle cx="560.68" cy="702.81" r="0.5" fill="#ff9a90"/>
<circle cx="562.48" cy="702.95" r="1.8" fill="#e8262a"/>
<circle cx="562.18" cy="702.65" r="0.5" fill="#ff9a90"/>
<circle cx="563.97" cy="702.84" r="1.8" fill="#e8262a"/>
<circle cx="563.67" cy="702.54" r="0.5" fill="#ff9a90"/>
<circle cx="565.47" cy="702.76" r="1.8" fill="#e8262a"/>
<circle cx="565.17" cy="702.46" r="0.5" fill="#ff9a90"/>
<circle cx="566.96" cy="702.73" r="1.8" fill="#e8262a"/>
<circle cx="566.66" cy="702.43" r="0.5" fill="#ff9a90"/>
<circle cx="568.45" cy="702.72" r="1.8" fill="#e8262a"/>
<circle cx="568.15" cy="702.42" r="0.5" fill="#ff9a90"/>
<circle cx="569.95" cy="702.66" r="1.8" fill="#e8262a"/>
<circle cx="569.65" cy="702.36" r="0.5" fill="#ff9a90"/>
<circle cx="571.44" cy="702.58" r="1.8" fill="#e8262a"/>
<circle cx="571.14" cy="702.28" r="0.5" fill="#ff9a90"/>
<circle cx="572.94" cy="702.46" r="1.8" fill="#e8262a"/>
<circle cx="572.64" cy="702.16" r="0.5" fill="#ff9a90"/>
<circle cx="574.43" cy="702.33" r="1.8" fill="#e8262a"/>
<circle cx="574.13" cy="702.03" r="0.5" fill="#ff9a90"/>
<circle cx="575.92" cy="702.17" r="1.8" fill="#e8262a"/>
<circle cx="575.62" cy="701.87" r="0.5" fill="#ff9a90"/>
<circle cx="577.42" cy="702.00" r="1.8" fill="#e8262a"/>
<circle cx="577.12" cy="701.70" r="0.5" fill="#ff9a90"/>
<circle cx="578.91" cy="701.81" r="1.8" fill="#e8262a"/>
<circle cx="578.61" cy="701.51" r="0.5" fill="#ff9a90"/>
<circle cx="580.41" cy="701.62" r="1.8" fill="#e8262a"/>
<circle cx="580.11" cy="701.32" r="0.5" fill="#ff9a90"/>
<circle cx="581.90" cy="701.43" r="1.8" fill="#e8262a"/>
<circle cx="581.60" cy="701.13" r="0.5" fill="#ff9a90"/>
<circle cx="583.39" cy="701.23" r="1.8" fill="#e8262a"/>
<circle cx="583.09" cy="700.93" r="0.5" fill="#ff9a90"/>
<circle cx="584.89" cy="701.04" r="1.8" fill="#e8262a"/>
<circle cx="584.59" cy="700.74" r="0.5" fill="#ff9a90"/>
<circle cx="586.38" cy="700.86" r="1.8" fill="#e8262a"/>
<circle cx="586.08" cy="700.56" r="0.5" fill="#ff9a90"/>
<circle cx="587.88" cy="700.68" r="1.8" fill="#e8262a"/>
<circle cx="587.58" cy="700.38" r="0.5" fill="#ff9a90"/>
<circle cx="589.37" cy="700.53" r="1.8" fill="#e8262a"/>
<circle cx="589.07" cy="700.23" r="0.5" fill="#ff9a90"/>
<circle cx="590.86" cy="700.39" r="1.8" fill="#e8262a"/>
<circle cx="590.56" cy="700.09" r="0.5" fill="#ff9a90"/>
<circle cx="592.36" cy="700.28" r="1.8" fill="#e8262a"/>
<circle cx="592.06" cy="699.98" r="0.5" fill="#ff9a90"/>
<circle cx="593.85" cy="700.19" r="1.8" fill="#e8262a"/>
<circle cx="593.55" cy="699.89" r="0.5" fill="#ff9a90"/>
<circle cx="595.35" cy="700.14" r="1.8" fill="#e8262a"/>
<circle cx="595.05" cy="699.84" r="0.5" fill="#ff9a90"/>
<circle cx="596.84" cy="700.12" r="1.8" fill="#e8262a"/>
<circle cx="596.54" cy="699.82" r="0.5" fill="#ff9a90"/>
<circle cx="598.33" cy="700.10" r="1.8" fill="#e8262a"/>
<circle cx="598.03" cy="699.80" r="0.5" fill="#ff9a90"/>
<circle cx="599.83" cy="700.03" r="1.8" fill="#e8262a"/>
<circle cx="599.53" cy="699.73" r="0.5" fill="#ff9a90"/>
<circle cx="601.32" cy="699.92" r="1.8" fill="#e8262a"/>
<circle cx="601.02" cy="699.62" r="0.5" fill="#ff9a90"/>
<circle cx="602.82" cy="699.78" r="1.8" fill="#e8262a"/>
<circle cx="602.52" cy="699.48" r="0.5" fill="#ff9a90"/>
<circle cx="604.31" cy="699.61" r="1.8" fill="#e8262a"/>
<circle cx="604.01" cy="699.31" r="0.5" fill="#ff9a90"/>
<circle cx="605.80" cy="699.43" r="1.8" fill="#e8262a"/>
<circle cx="605.50" cy="699.13" r="0.5" fill="#ff9a90"/>
<circle cx="607.30" cy="699.24" r="1.8" fill="#e8262a"/>
<circle cx="607.00" cy="698.94" r="0.5" fill="#ff9a90"/>
<circle cx="608.79" cy="699.04" r="1.8" fill="#e8262a"/>
<circle cx="608.49" cy="698.74" r="0.5" fill="#ff9a90"/>
<circle cx="610.29" cy="698.85" r="1.8" fill="#e8262a"/>
<circle cx="609.99" cy="698.55" r="0.5" fill="#ff9a90"/>
<circle cx="611.78" cy="698.67" r="1.8" fill="#e8262a"/>
<circle cx="611.48" cy="698.37" r="0.5" fill="#ff9a90"/>
<circle cx="613.27" cy="698.50" r="1.8" fill="#e8262a"/>
<circle cx="612.97" cy="698.20" r="0.5" fill="#ff9a90"/>
<circle cx="614.77" cy="698.36" r="1.8" fill="#e8262a"/>
<circle cx="614.47" cy="698.06" r="0.5" fill="#ff9a90"/>
<circle cx="616.26" cy="698.26" r="1.8" fill="#e8262a"/>
<circle cx="615.96" cy="697.96" r="0.5" fill="#ff9a90"/>
<circle cx="617.76" cy="698.19" r="1.8" fill="#e8262a"/>
<circle cx="617.46" cy="697.89" r="0.5" fill="#ff9a90"/>
<circle cx="619.25" cy="698.16" r="1.8" fill="#e8262a"/>
<circle cx="618.95" cy="697.86" r="0.5" fill="#ff9a90"/>
<circle cx="620.74" cy="698.06" r="1.8" fill="#e8262a"/>
<circle cx="620.44" cy="697.76" r="0.5" fill="#ff9a90"/>
<circle cx="622.24" cy="697.82" r="1.8" fill="#e8262a"/>
<circle cx="621.94" cy="697.52" r="0.5" fill="#ff9a90"/>
<circle cx="623.73" cy="697.51" r="1.8" fill="#e8262a"/>
<circle cx="623.43" cy="697.21" r="0.5" fill="#ff9a90"/>
<circle cx="625.23" cy="697.19" r="1.8" fill="#e8262a"/>
<circle cx="624.93" cy="696.89" r="0.5" fill="#ff9a90"/>
<circle cx="626.72" cy="696.95" r="1.8" fill="#e8262a"/>
<circle cx="626.42" cy="696.65" r="0.5" fill="#ff9a90"/>
<circle cx="628.21" cy="696.85" r="1.8" fill="#e8262a"/>
<circle cx="627.91" cy="696.55" r="0.5" fill="#ff9a90"/>
<circle cx="540.82" cy="695.87" r="1.8" fill="#e8262a"/>
<circle cx="540.52" cy="695.57" r="0.5" fill="#ff9a90"/>
<circle cx="542.16" cy="695.87" r="1.8" fill="#e8262a"/>
<circle cx="541.86" cy="695.57" r="0.5" fill="#ff9a90"/>
<circle cx="543.50" cy="695.86" r="1.8" fill="#e8262a"/>
<circle cx="543.20" cy="695.56" r="0.5" fill="#ff9a90"/>
<circle cx="544.85" cy="695.85" r="1.8" fill="#e8262a"/>
<circle cx="544.55" cy="695.55" r="0.5" fill="#ff9a90"/>
<circle cx="546.19" cy="695.84" r="1.8" fill="#e8262a"/>
<circle cx="545.89" cy="695.54" r="0.5" fill="#ff9a90"/>
<circle cx="547.54" cy="695.82" r="1.8" fill="#e8262a"/>
<circle cx="547.24" cy="695.52" r="0.5" fill="#ff9a90"/>
<circle cx="548.88" cy="695.80" r="1.8" fill="#e8262a"/>
<circle cx="548.58" cy="695.50" r="0.5" fill="#ff9a90"/>
<circle cx="550.23" cy="695.78" r="1.8" fill="#e8262a"/>
<circle cx="549.93" cy="695.48" r="0.5" fill="#ff9a90"/>
<circle cx="551.57" cy="695.75" r="1.8" fill="#e8262a"/>
<circle cx="551.27" cy="695.45" r="0.5" fill="#ff9a90"/>
<circle cx="552.92" cy="695.73" r="1.8" fill="#e8262a"/>
<circle cx="552.62" cy="695.43" r="0.5" fill="#ff9a90"/>
<circle cx="554.26" cy="695.70" r="1.8" fill="#e8262a"/>
<circle cx="553.96" cy="695.40" r="0.5" fill="#ff9a90"/>
<circle cx="555.61" cy="695.68" r="1.8" fill="#e8262a"/>
<circle cx="555.31" cy="695.38" r="0.5" fill="#ff9a90"/>
<circle cx="556.95" cy="695.65" r="1.8" fill="#e8262a"/>
<circle cx="556.65" cy="695.35" r="0.5" fill="#ff9a90"/>
<circle cx="558.29" cy="695.63" r="1.8" fill="#e8262a"/>
<circle cx="557.99" cy="695.33" r="0.5" fill="#ff9a90"/>
<circle cx="559.64" cy="695.61" r="1.8" fill="#e8262a"/>
<circle cx="559.34" cy="695.31" r="0.5" fill="#ff9a90"/>
<circle cx="560.98" cy="695.59" r="1.8" fill="#e8262a"/>
<circle cx="560.68" cy="695.29" r="0.5" fill="#ff9a90"/>
<circle cx="562.33" cy="695.57" r="1.8" fill="#e8262a"/>
<circle cx="562.03" cy="695.27" r="0.5" fill="#ff9a90"/>
<circle cx="563.67" cy="695.56" r="1.8" fill="#e8262a"/>
<circle cx="563.37" cy="695.26" r="0.5" fill="#ff9a90"/>
<circle cx="565.02" cy="695.55" r="1.8" fill="#e8262a"/>
<circle cx="564.72" cy="695.25" r="0.5" fill="#ff9a90"/>
<circle cx="566.36" cy="695.55" r="1.8" fill="#e8262a"/>
<circle cx="566.06" cy="695.25" r="0.5" fill="#ff9a90"/>
<circle cx="567.71" cy="695.46" r="1.8" fill="#e8262a"/>
<circle cx="567.41" cy="695.16" r="0.5" fill="#ff9a90"/>
<circle cx="569.05" cy="694.92" r="1.8" fill="#e8262a"/>
<circle cx="568.75" cy="694.62" r="0.5" fill="#ff9a90"/>
<circle cx="570.40" cy="694.11" r="1.8" fill="#e8262a"/>
<circle cx="570.10" cy="693.81" r="0.5" fill="#ff9a90"/>
<circle cx="571.74" cy="693.24" r="1.8" fill="#e8262a"/>
<circle cx="571.44" cy="692.94" r="0.5" fill="#ff9a90"/>
<circle cx="573.09" cy="692.56" r="1.8" fill="#e8262a"/>
<circle cx="572.79" cy="692.26" r="0.5" fill="#ff9a90"/>
<circle cx="574.43" cy="692.28" r="1.8" fill="#e8262a"/>
<circle cx="574.13" cy="691.98" r="0.5" fill="#ff9a90"/>
<circle cx="575.77" cy="691.87" r="1.8" fill="#e8262a"/>
<circle cx="575.47" cy="691.57" r="0.5" fill="#ff9a90"/>
<circle cx="577.12" cy="690.88" r="1.8" fill="#e8262a"/>
<circle cx="576.82" cy="690.58" r="0.5" fill="#ff9a90"/>
<circle cx="578.46" cy="689.63" r="1.8" fill="#e8262a"/>
<circle cx="578.16" cy="689.33" r="0.5" fill="#ff9a90"/>
<circle cx="579.81" cy="688.45" r="1.8" fill="#e8262a"/>
<circle cx="579.51" cy="688.15" r="0.5" fill="#ff9a90"/>
<circle cx="581.15" cy="687.68" r="1.8" fill="#e8262a"/>
<circle cx="580.85" cy="687.38" r="0.5" fill="#ff9a90"/>
<circle cx="582.50" cy="687.58" r="1.8" fill="#e8262a"/>
<circle cx="582.20" cy="687.28" r="0.5" fill="#ff9a90"/>
<circle cx="583.84" cy="687.90" r="1.8" fill="#e8262a"/>
<circle cx="583.54" cy="687.60" r="0.5" fill="#ff9a90"/>
<circle cx="585.19" cy="688.41" r="1.8" fill="#e8262a"/>
<circle cx="584.89" cy="688.11" r="0.5" fill="#ff9a90"/>
<circle cx="586.53" cy="688.98" r="1.8" fill="#e8262a"/>
<circle cx="586.23" cy="688.68" r="0.5" fill="#ff9a90"/>
<circle cx="587.88" cy="689.45" r="1.8" fill="#e8262a"/>
<circle cx="587.58" cy="689.15" r="0.5" fill="#ff9a90"/>
<circle cx="589.22" cy="689.66" r="1.8" fill="#e8262a"/>
<circle cx="588.92" cy="689.36" r="0.5" fill="#ff9a90"/>
<circle cx="590.57" cy="689.72" r="1.8" fill="#e8262a"/>
<circle cx="590.27" cy="689.42" r="0.5" fill="#ff9a90"/>
<circle cx="591.91" cy="689.89" r="1.8" fill="#e8262a"/>
<circle cx="591.61" cy="689.59" r="0.5" fill="#ff9a90"/>
<circle cx="593.25" cy="690.16" r="1.8" fill="#e8262a"/>
<circle cx="592.95" cy="689.86" r="0.5" fill="#ff9a90"/>
<circle cx="594.60" cy="690.49" r="1.8" fill="#e8262a"/>
<circle cx="594.30" cy="690.19" r="0.5" fill="#ff9a90"/>
<circle cx="595.94" cy="690.87" r="1.8" fill="#e8262a"/>
<circle cx="595.64" cy="690.57" r="0.5" fill="#ff9a90"/>
<circle cx="597.29" cy="691.27" r="1.8" fill="#e8262a"/>
<circle cx="596.99" cy="690.97" r="0.5" fill="#ff9a90"/>
<circle cx="598.63" cy="691.66" r="1.8" fill="#e8262a"/>
<circle cx="598.33" cy="691.36" r="0.5" fill="#ff9a90"/>
<circle cx="599.98" cy="692.01" r="1.8" fill="#e8262a"/>
<circle cx="599.68" cy="691.71" r="0.5" fill="#ff9a90"/>
<circle cx="601.32" cy="692.30" r="1.8" fill="#e8262a"/>
<circle cx="601.02" cy="692.00" r="0.5" fill="#ff9a90"/>
<circle cx="602.67" cy="692.51" r="1.8" fill="#e8262a"/>
<circle cx="602.37" cy="692.21" r="0.5" fill="#ff9a90"/>
<circle cx="604.01" cy="692.60" r="1.8" fill="#e8262a"/>
<circle cx="603.71" cy="692.30" r="0.5" fill="#ff9a90"/>
<circle cx="605.36" cy="692.55" r="1.8" fill="#e8262a"/>
<circle cx="605.06" cy="692.25" r="0.5" fill="#ff9a90"/>
<circle cx="606.70" cy="692.37" r="1.8" fill="#e8262a"/>
<circle cx="606.40" cy="692.07" r="0.5" fill="#ff9a90"/>
<circle cx="608.04" cy="692.12" r="1.8" fill="#e8262a"/>
<circle cx="607.74" cy="691.82" r="0.5" fill="#ff9a90"/>
<circle cx="609.39" cy="691.86" r="1.8" fill="#e8262a"/>
<circle cx="609.09" cy="691.56" r="0.5" fill="#ff9a90"/>
<circle cx="610.73" cy="691.68" r="1.8" fill="#e8262a"/>
<circle cx="610.43" cy="691.38" r="0.5" fill="#ff9a90"/>
<circle cx="612.08" cy="691.55" r="1.8" fill="#e8262a"/>
<circle cx="611.78" cy="691.25" r="0.5" fill="#ff9a90"/>
<circle cx="613.42" cy="690.02" r="1.8" fill="#e8262a"/>
<circle cx="613.12" cy="689.72" r="0.5" fill="#ff9a90"/>
<circle cx="614.77" cy="688.11" r="1.8" fill="#e8262a"/>
<circle cx="614.47" cy="687.81" r="0.5" fill="#ff9a90"/>
<circle cx="624.85" cy="680.01" r="1.8" fill="#e8262a"/>
<circle cx="624.55" cy="679.71" r="0.5" fill="#ff9a90"/>
<circle cx="626.35" cy="685.57" r="1.8" fill="#e8262a"/>
<circle cx="626.05" cy="685.27" r="0.5" fill="#ff9a90"/>
<circle cx="627.84" cy="687.14" r="1.8" fill="#e8262a"/>
<circle cx="627.54" cy="686.84" r="0.5" fill="#ff9a90"/>
<circle cx="629.33" cy="689.55" r="1.8" fill="#e8262a"/>
<circle cx="629.03" cy="689.25" r="0.5" fill="#ff9a90"/>
<circle cx="630.83" cy="690.52" r="1.8" fill="#e8262a"/>
<circle cx="630.53" cy="690.22" r="0.5" fill="#ff9a90"/>
<circle cx="632.32" cy="691.45" r="1.8" fill="#e8262a"/>
<circle cx="632.02" cy="691.15" r="0.5" fill="#ff9a90"/>
<circle cx="633.82" cy="692.37" r="1.8" fill="#e8262a"/>
<circle cx="633.52" cy="692.07" r="0.5" fill="#ff9a90"/>
<circle cx="635.31" cy="692.71" r="1.8" fill="#e8262a"/>
<circle cx="635.01" cy="692.41" r="0.5" fill="#ff9a90"/>
<circle cx="636.80" cy="693.45" r="1.8" fill="#e8262a"/>
<circle cx="636.50" cy="693.15" r="0.5" fill="#ff9a90"/>
<circle cx="638.30" cy="693.75" r="1.8" fill="#e8262a"/>
<circle cx="638.00" cy="693.45" r="0.5" fill="#ff9a90"/>
<circle cx="639.79" cy="694.10" r="1.8" fill="#e8262a"/>
<circle cx="639.49" cy="693.80" r="0.5" fill="#ff9a90"/>
<circle cx="641.29" cy="694.56" r="1.8" fill="#e8262a"/>
<circle cx="640.99" cy="694.26" r="0.5" fill="#ff9a90"/>
<circle cx="620.30" cy="629.70" r="1.8" fill="#e8262a"/>
<circle cx="620.00" cy="629.40" r="0.5" fill="#ff9a90"/>
<circle cx="621.20" cy="637.60" r="1.8" fill="#e8262a"/>
<circle cx="620.90" cy="637.30" r="0.5" fill="#ff9a90"/>
<circle cx="618.30" cy="650.60" r="1.8" fill="#e8262a"/>
<circle cx="618.00" cy="650.30" r="0.5" fill="#ff9a90"/>
<circle cx="617.10" cy="668.30" r="1.8" fill="#e8262a"/>
<circle cx="616.80" cy="668.00" r="0.5" fill="#ff9a90"/>
<circle cx="624.30" cy="670.10" r="1.8" fill="#e8262a"/>
<circle cx="624.00" cy="669.80" r="0.5" fill="#ff9a90"/>
<circle cx="625.90" cy="681.30" r="1.8" fill="#e8262a"/>
<circle cx="625.60" cy="681.00" r="0.5" fill="#ff9a90"/>
<circle cx="616.20" cy="678.00" r="1.8" fill="#e8262a"/>
<circle cx="615.90" cy="677.70" r="0.5" fill="#ff9a90"/>
<circle cx="615.60" cy="684.00" r="1.8" fill="#e8262a"/>
<circle cx="615.30" cy="683.70" r="0.5" fill="#ff9a90"/>
<circle cx="432.50" cy="696.20" r="1.8" fill="#3a4ba8"/>
<circle cx="432.20" cy="695.90" r="0.55" fill="#c9d0f0"/>
<circle cx="433.99" cy="696.20" r="1.8" fill="#3a4ba8"/>
<circle cx="433.69" cy="695.90" r="0.55" fill="#c9d0f0"/>
<circle cx="435.49" cy="696.20" r="1.8" fill="#3a4ba8"/>
<circle cx="435.19" cy="695.90" r="0.55" fill="#c9d0f0"/>
<circle cx="436.98" cy="696.20" r="1.8" fill="#3a4ba8"/>
<circle cx="436.68" cy="695.90" r="0.55" fill="#c9d0f0"/>
<circle cx="438.48" cy="696.21" r="1.8" fill="#3a4ba8"/>
<circle cx="438.18" cy="695.91" r="0.55" fill="#c9d0f0"/>
<circle cx="439.97" cy="696.21" r="1.8" fill="#3a4ba8"/>
<circle cx="439.67" cy="695.91" r="0.55" fill="#c9d0f0"/>
<circle cx="441.46" cy="696.21" r="1.8" fill="#3a4ba8"/>
<circle cx="441.16" cy="695.91" r="0.55" fill="#c9d0f0"/>
<circle cx="442.96" cy="696.22" r="1.8" fill="#3a4ba8"/>
<circle cx="442.66" cy="695.92" r="0.55" fill="#c9d0f0"/>
<circle cx="444.45" cy="696.22" r="1.8" fill="#3a4ba8"/>
<circle cx="444.15" cy="695.92" r="0.55" fill="#c9d0f0"/>
<circle cx="445.95" cy="696.23" r="1.8" fill="#3a4ba8"/>
<circle cx="445.65" cy="695.93" r="0.55" fill="#c9d0f0"/>
<circle cx="447.44" cy="696.23" r="1.8" fill="#3a4ba8"/>
<circle cx="447.14" cy="695.93" r="0.55" fill="#c9d0f0"/>
<circle cx="448.93" cy="696.24" r="1.8" fill="#3a4ba8"/>
<circle cx="448.63" cy="695.94" r="0.55" fill="#c9d0f0"/>
<circle cx="450.43" cy="696.24" r="1.8" fill="#3a4ba8"/>
<circle cx="450.13" cy="695.94" r="0.55" fill="#c9d0f0"/>
<circle cx="451.92" cy="696.25" r="1.8" fill="#3a4ba8"/>
<circle cx="451.62" cy="695.95" r="0.55" fill="#c9d0f0"/>
<circle cx="453.42" cy="696.26" r="1.8" fill="#3a4ba8"/>
<circle cx="453.12" cy="695.96" r="0.55" fill="#c9d0f0"/>
<circle cx="454.91" cy="696.26" r="1.8" fill="#3a4ba8"/>
<circle cx="454.61" cy="695.96" r="0.55" fill="#c9d0f0"/>
<circle cx="456.40" cy="696.27" r="1.8" fill="#3a4ba8"/>
<circle cx="456.10" cy="695.97" r="0.55" fill="#c9d0f0"/>
<circle cx="457.90" cy="696.28" r="1.8" fill="#3a4ba8"/>
<circle cx="457.60" cy="695.98" r="0.55" fill="#c9d0f0"/>
<circle cx="459.39" cy="696.29" r="1.8" fill="#3a4ba8"/>
<circle cx="459.09" cy="695.99" r="0.55" fill="#c9d0f0"/>
<circle cx="460.89" cy="696.29" r="1.8" fill="#3a4ba8"/>
<circle cx="460.59" cy="695.99" r="0.55" fill="#c9d0f0"/>
<circle cx="462.38" cy="696.30" r="1.8" fill="#3a4ba8"/>
<circle cx="462.08" cy="696.00" r="0.55" fill="#c9d0f0"/>
<circle cx="463.87" cy="696.31" r="1.8" fill="#3a4ba8"/>
<circle cx="463.57" cy="696.01" r="0.55" fill="#c9d0f0"/>
<circle cx="465.37" cy="696.31" r="1.8" fill="#3a4ba8"/>
<circle cx="465.07" cy="696.01" r="0.55" fill="#c9d0f0"/>
<circle cx="466.86" cy="696.32" r="1.8" fill="#3a4ba8"/>
<circle cx="466.56" cy="696.02" r="0.55" fill="#c9d0f0"/>
<circle cx="468.36" cy="696.33" r="1.8" fill="#3a4ba8"/>
<circle cx="468.06" cy="696.03" r="0.55" fill="#c9d0f0"/>
<circle cx="469.85" cy="696.33" r="1.8" fill="#3a4ba8"/>
<circle cx="469.55" cy="696.03" r="0.55" fill="#c9d0f0"/>
<circle cx="471.34" cy="696.34" r="1.8" fill="#3a4ba8"/>
<circle cx="471.04" cy="696.04" r="0.55" fill="#c9d0f0"/>
<circle cx="472.84" cy="696.34" r="1.8" fill="#3a4ba8"/>
<circle cx="472.54" cy="696.04" r="0.55" fill="#c9d0f0"/>
<circle cx="474.33" cy="696.35" r="1.8" fill="#3a4ba8"/>
<circle cx="474.03" cy="696.05" r="0.55" fill="#c9d0f0"/>
<circle cx="475.83" cy="696.35" r="1.8" fill="#3a4ba8"/>
<circle cx="475.53" cy="696.05" r="0.55" fill="#c9d0f0"/>
<circle cx="477.32" cy="696.35" r="1.8" fill="#3a4ba8"/>
<circle cx="477.02" cy="696.05" r="0.55" fill="#c9d0f0"/>
<circle cx="478.81" cy="696.36" r="1.8" fill="#3a4ba8"/>
<circle cx="478.51" cy="696.06" r="0.55" fill="#c9d0f0"/>
<circle cx="480.31" cy="696.36" r="1.8" fill="#3a4ba8"/>
<circle cx="480.01" cy="696.06" r="0.55" fill="#c9d0f0"/>
<circle cx="481.80" cy="696.36" r="1.8" fill="#3a4ba8"/>
<circle cx="481.50" cy="696.06" r="0.55" fill="#c9d0f0"/>
<circle cx="483.30" cy="696.36" r="1.8" fill="#3a4ba8"/>
<circle cx="483.00" cy="696.06" r="0.55" fill="#c9d0f0"/>
<circle cx="484.79" cy="696.36" r="1.8" fill="#3a4ba8"/>
<circle cx="484.49" cy="696.06" r="0.55" fill="#c9d0f0"/>
<circle cx="486.28" cy="696.40" r="1.8" fill="#3a4ba8"/>
<circle cx="485.98" cy="696.10" r="0.55" fill="#c9d0f0"/>
<circle cx="487.78" cy="696.52" r="1.8" fill="#3a4ba8"/>
<circle cx="487.48" cy="696.22" r="0.55" fill="#c9d0f0"/>
<circle cx="489.27" cy="696.68" r="1.8" fill="#3a4ba8"/>
<circle cx="488.97" cy="696.38" r="0.55" fill="#c9d0f0"/>
<circle cx="490.77" cy="696.88" r="1.8" fill="#3a4ba8"/>
<circle cx="490.47" cy="696.58" r="0.55" fill="#c9d0f0"/>
<circle cx="492.26" cy="697.10" r="1.8" fill="#3a4ba8"/>
<circle cx="491.96" cy="696.80" r="0.55" fill="#c9d0f0"/>
<circle cx="493.75" cy="697.32" r="1.8" fill="#3a4ba8"/>
<circle cx="493.45" cy="697.02" r="0.55" fill="#c9d0f0"/>
<circle cx="495.25" cy="697.52" r="1.8" fill="#3a4ba8"/>
<circle cx="494.95" cy="697.22" r="0.55" fill="#c9d0f0"/>
<circle cx="496.74" cy="697.68" r="1.8" fill="#3a4ba8"/>
<circle cx="496.44" cy="697.38" r="0.55" fill="#c9d0f0"/>
<circle cx="498.24" cy="697.79" r="1.8" fill="#3a4ba8"/>
<circle cx="497.94" cy="697.49" r="0.55" fill="#c9d0f0"/>
<circle cx="499.73" cy="697.83" r="1.8" fill="#3a4ba8"/>
<circle cx="499.43" cy="697.53" r="0.55" fill="#c9d0f0"/>
<circle cx="501.22" cy="697.97" r="1.8" fill="#3a4ba8"/>
<circle cx="500.92" cy="697.67" r="0.55" fill="#c9d0f0"/>
<circle cx="502.72" cy="698.34" r="1.8" fill="#3a4ba8"/>
<circle cx="502.42" cy="698.04" r="0.55" fill="#c9d0f0"/>
<circle cx="504.21" cy="698.89" r="1.8" fill="#3a4ba8"/>
<circle cx="503.91" cy="698.59" r="0.55" fill="#c9d0f0"/>
<circle cx="505.71" cy="699.56" r="1.8" fill="#3a4ba8"/>
<circle cx="505.41" cy="699.26" r="0.55" fill="#c9d0f0"/>
<circle cx="507.20" cy="700.28" r="1.8" fill="#3a4ba8"/>
<circle cx="506.90" cy="699.98" r="0.55" fill="#c9d0f0"/>
<circle cx="508.69" cy="701.01" r="1.8" fill="#3a4ba8"/>
<circle cx="508.39" cy="700.71" r="0.55" fill="#c9d0f0"/>
<circle cx="510.19" cy="701.68" r="1.8" fill="#3a4ba8"/>
<circle cx="509.89" cy="701.38" r="0.55" fill="#c9d0f0"/>
<circle cx="511.68" cy="702.22" r="1.8" fill="#3a4ba8"/>
<circle cx="511.38" cy="701.92" r="0.55" fill="#c9d0f0"/>
<circle cx="513.18" cy="702.60" r="1.8" fill="#3a4ba8"/>
<circle cx="512.88" cy="702.30" r="0.55" fill="#c9d0f0"/>
<circle cx="514.67" cy="702.73" r="1.8" fill="#3a4ba8"/>
<circle cx="514.37" cy="702.43" r="0.55" fill="#c9d0f0"/>
<circle cx="516.16" cy="702.92" r="1.8" fill="#3a4ba8"/>
<circle cx="515.86" cy="702.62" r="0.55" fill="#c9d0f0"/>
<circle cx="517.66" cy="703.37" r="1.8" fill="#3a4ba8"/>
<circle cx="517.36" cy="703.07" r="0.55" fill="#c9d0f0"/>
<circle cx="519.15" cy="703.90" r="1.8" fill="#3a4ba8"/>
<circle cx="518.85" cy="703.60" r="0.55" fill="#c9d0f0"/>
<circle cx="520.65" cy="704.34" r="1.8" fill="#3a4ba8"/>
<circle cx="520.35" cy="704.04" r="0.55" fill="#c9d0f0"/>
<circle cx="522.14" cy="704.53" r="1.8" fill="#3a4ba8"/>
<circle cx="521.84" cy="704.23" r="0.55" fill="#c9d0f0"/>
<circle cx="523.63" cy="704.49" r="1.8" fill="#3a4ba8"/>
<circle cx="523.33" cy="704.19" r="0.55" fill="#c9d0f0"/>
<circle cx="525.13" cy="704.39" r="1.8" fill="#3a4ba8"/>
<circle cx="524.83" cy="704.09" r="0.55" fill="#c9d0f0"/>
<circle cx="526.62" cy="704.25" r="1.8" fill="#3a4ba8"/>
<circle cx="526.32" cy="703.95" r="0.55" fill="#c9d0f0"/>
<circle cx="528.12" cy="704.07" r="1.8" fill="#3a4ba8"/>
<circle cx="527.82" cy="703.77" r="0.55" fill="#c9d0f0"/>
<circle cx="529.61" cy="703.88" r="1.8" fill="#3a4ba8"/>
<circle cx="529.31" cy="703.58" r="0.55" fill="#c9d0f0"/>
<circle cx="531.10" cy="703.68" r="1.8" fill="#3a4ba8"/>
<circle cx="530.80" cy="703.38" r="0.55" fill="#c9d0f0"/>
<circle cx="532.60" cy="703.51" r="1.8" fill="#3a4ba8"/>
<circle cx="532.30" cy="703.21" r="0.55" fill="#c9d0f0"/>
<circle cx="534.09" cy="703.36" r="1.8" fill="#3a4ba8"/>
<circle cx="533.79" cy="703.06" r="0.55" fill="#c9d0f0"/>
<circle cx="535.59" cy="703.26" r="1.8" fill="#3a4ba8"/>
<circle cx="535.29" cy="702.96" r="0.55" fill="#c9d0f0"/>
<circle cx="537.08" cy="703.22" r="1.8" fill="#3a4ba8"/>
<circle cx="536.78" cy="702.92" r="0.55" fill="#c9d0f0"/>
<circle cx="538.57" cy="703.20" r="1.8" fill="#3a4ba8"/>
<circle cx="538.27" cy="702.90" r="0.55" fill="#c9d0f0"/>
<circle cx="540.07" cy="703.15" r="1.8" fill="#3a4ba8"/>
<circle cx="539.77" cy="702.85" r="0.55" fill="#c9d0f0"/>
<circle cx="541.56" cy="703.06" r="1.8" fill="#3a4ba8"/>
<circle cx="541.26" cy="702.76" r="0.55" fill="#c9d0f0"/>
<circle cx="543.06" cy="702.94" r="1.8" fill="#3a4ba8"/>
<circle cx="542.76" cy="702.64" r="0.55" fill="#c9d0f0"/>
<circle cx="544.55" cy="702.79" r="1.8" fill="#3a4ba8"/>
<circle cx="544.25" cy="702.49" r="0.55" fill="#c9d0f0"/>
<circle cx="546.04" cy="702.62" r="1.8" fill="#3a4ba8"/>
<circle cx="545.74" cy="702.32" r="0.55" fill="#c9d0f0"/>
<circle cx="547.54" cy="702.44" r="1.8" fill="#3a4ba8"/>
<circle cx="547.24" cy="702.14" r="0.55" fill="#c9d0f0"/>
<circle cx="549.03" cy="702.25" r="1.8" fill="#3a4ba8"/>
<circle cx="548.73" cy="701.95" r="0.55" fill="#c9d0f0"/>
<circle cx="550.53" cy="702.04" r="1.8" fill="#3a4ba8"/>
<circle cx="550.23" cy="701.74" r="0.55" fill="#c9d0f0"/>
<circle cx="552.02" cy="701.84" r="1.8" fill="#3a4ba8"/>
<circle cx="551.72" cy="701.54" r="0.55" fill="#c9d0f0"/>
<circle cx="553.51" cy="701.63" r="1.8" fill="#3a4ba8"/>
<circle cx="553.21" cy="701.33" r="0.55" fill="#c9d0f0"/>
<circle cx="555.01" cy="701.42" r="1.8" fill="#3a4ba8"/>
<circle cx="554.71" cy="701.12" r="0.55" fill="#c9d0f0"/>
<circle cx="556.50" cy="701.23" r="1.8" fill="#3a4ba8"/>
<circle cx="556.20" cy="700.93" r="0.55" fill="#c9d0f0"/>
<circle cx="558.00" cy="701.05" r="1.8" fill="#3a4ba8"/>
<circle cx="557.70" cy="700.75" r="0.55" fill="#c9d0f0"/>
<circle cx="559.49" cy="700.88" r="1.8" fill="#3a4ba8"/>
<circle cx="559.19" cy="700.58" r="0.55" fill="#c9d0f0"/>
<circle cx="560.98" cy="700.74" r="1.8" fill="#3a4ba8"/>
<circle cx="560.68" cy="700.44" r="0.55" fill="#c9d0f0"/>
<circle cx="562.48" cy="700.62" r="1.8" fill="#3a4ba8"/>
<circle cx="562.18" cy="700.32" r="0.55" fill="#c9d0f0"/>
<circle cx="563.97" cy="700.52" r="1.8" fill="#3a4ba8"/>
<circle cx="563.67" cy="700.22" r="0.55" fill="#c9d0f0"/>
<circle cx="565.47" cy="700.47" r="1.8" fill="#3a4ba8"/>
<circle cx="565.17" cy="700.17" r="0.55" fill="#c9d0f0"/>
<circle cx="566.96" cy="700.45" r="1.8" fill="#3a4ba8"/>
<circle cx="566.66" cy="700.15" r="0.55" fill="#c9d0f0"/>
<circle cx="568.45" cy="700.43" r="1.8" fill="#3a4ba8"/>
<circle cx="568.15" cy="700.13" r="0.55" fill="#c9d0f0"/>
<circle cx="569.95" cy="700.40" r="1.8" fill="#3a4ba8"/>
<circle cx="569.65" cy="700.10" r="0.55" fill="#c9d0f0"/>
<circle cx="571.44" cy="700.34" r="1.8" fill="#3a4ba8"/>
<circle cx="571.14" cy="700.04" r="0.55" fill="#c9d0f0"/>
<circle cx="572.94" cy="700.26" r="1.8" fill="#3a4ba8"/>
<circle cx="572.64" cy="699.96" r="0.55" fill="#c9d0f0"/>
<circle cx="574.43" cy="700.17" r="1.8" fill="#3a4ba8"/>
<circle cx="574.13" cy="699.87" r="0.55" fill="#c9d0f0"/>
<circle cx="575.92" cy="700.06" r="1.8" fill="#3a4ba8"/>
<circle cx="575.62" cy="699.76" r="0.55" fill="#c9d0f0"/>
<circle cx="577.42" cy="699.94" r="1.8" fill="#3a4ba8"/>
<circle cx="577.12" cy="699.64" r="0.55" fill="#c9d0f0"/>
<circle cx="578.91" cy="699.81" r="1.8" fill="#3a4ba8"/>
<circle cx="578.61" cy="699.51" r="0.55" fill="#c9d0f0"/>
<circle cx="580.41" cy="699.68" r="1.8" fill="#3a4ba8"/>
<circle cx="580.11" cy="699.38" r="0.55" fill="#c9d0f0"/>
<circle cx="581.90" cy="699.55" r="1.8" fill="#3a4ba8"/>
<circle cx="581.60" cy="699.25" r="0.55" fill="#c9d0f0"/>
<circle cx="583.39" cy="699.41" r="1.8" fill="#3a4ba8"/>
<circle cx="583.09" cy="699.11" r="0.55" fill="#c9d0f0"/>
<circle cx="584.89" cy="699.28" r="1.8" fill="#3a4ba8"/>
<circle cx="584.59" cy="698.98" r="0.55" fill="#c9d0f0"/>
<circle cx="586.38" cy="699.16" r="1.8" fill="#3a4ba8"/>
<circle cx="586.08" cy="698.86" r="0.55" fill="#c9d0f0"/>
<circle cx="587.88" cy="699.04" r="1.8" fill="#3a4ba8"/>
<circle cx="587.58" cy="698.74" r="0.55" fill="#c9d0f0"/>
<circle cx="589.37" cy="698.93" r="1.8" fill="#3a4ba8"/>
<circle cx="589.07" cy="698.63" r="0.55" fill="#c9d0f0"/>
<circle cx="590.86" cy="698.84" r="1.8" fill="#3a4ba8"/>
<circle cx="590.56" cy="698.54" r="0.55" fill="#c9d0f0"/>
<circle cx="592.36" cy="698.76" r="1.8" fill="#3a4ba8"/>
<circle cx="592.06" cy="698.46" r="0.55" fill="#c9d0f0"/>
<circle cx="593.85" cy="698.70" r="1.8" fill="#3a4ba8"/>
<circle cx="593.55" cy="698.40" r="0.55" fill="#c9d0f0"/>
<circle cx="595.35" cy="698.66" r="1.8" fill="#3a4ba8"/>
<circle cx="595.05" cy="698.36" r="0.55" fill="#c9d0f0"/>
<circle cx="596.84" cy="698.65" r="1.8" fill="#3a4ba8"/>
<circle cx="596.54" cy="698.35" r="0.55" fill="#c9d0f0"/>
<circle cx="598.33" cy="698.63" r="1.8" fill="#3a4ba8"/>
<circle cx="598.03" cy="698.33" r="0.55" fill="#c9d0f0"/>
<circle cx="599.83" cy="698.58" r="1.8" fill="#3a4ba8"/>
<circle cx="599.53" cy="698.28" r="0.55" fill="#c9d0f0"/>
<circle cx="601.32" cy="698.50" r="1.8" fill="#3a4ba8"/>
<circle cx="601.02" cy="698.20" r="0.55" fill="#c9d0f0"/>
<circle cx="602.82" cy="698.39" r="1.8" fill="#3a4ba8"/>
<circle cx="602.52" cy="698.09" r="0.55" fill="#c9d0f0"/>
<circle cx="604.31" cy="698.27" r="1.8" fill="#3a4ba8"/>
<circle cx="604.01" cy="697.97" r="0.55" fill="#c9d0f0"/>
<circle cx="605.80" cy="698.13" r="1.8" fill="#3a4ba8"/>
<circle cx="605.50" cy="697.83" r="0.55" fill="#c9d0f0"/>
<circle cx="607.30" cy="697.99" r="1.8" fill="#3a4ba8"/>
<circle cx="607.00" cy="697.69" r="0.55" fill="#c9d0f0"/>
<circle cx="608.79" cy="697.84" r="1.8" fill="#3a4ba8"/>
<circle cx="608.49" cy="697.54" r="0.55" fill="#c9d0f0"/>
<circle cx="610.29" cy="697.70" r="1.8" fill="#3a4ba8"/>
<circle cx="609.99" cy="697.40" r="0.55" fill="#c9d0f0"/>
<circle cx="611.78" cy="697.56" r="1.8" fill="#3a4ba8"/>
<circle cx="611.48" cy="697.26" r="0.55" fill="#c9d0f0"/>
<circle cx="613.27" cy="697.44" r="1.8" fill="#3a4ba8"/>
<circle cx="612.97" cy="697.14" r="0.55" fill="#c9d0f0"/>
<circle cx="614.77" cy="697.33" r="1.8" fill="#3a4ba8"/>
<circle cx="614.47" cy="697.03" r="0.55" fill="#c9d0f0"/>
<circle cx="616.26" cy="697.25" r="1.8" fill="#3a4ba8"/>
<circle cx="615.96" cy="696.95" r="0.55" fill="#c9d0f0"/>
<circle cx="617.76" cy="697.20" r="1.8" fill="#3a4ba8"/>
<circle cx="617.46" cy="696.90" r="0.55" fill="#c9d0f0"/>
<circle cx="619.25" cy="697.18" r="1.8" fill="#3a4ba8"/>
<circle cx="618.95" cy="696.88" r="0.55" fill="#c9d0f0"/>
<circle cx="620.74" cy="697.12" r="1.8" fill="#3a4ba8"/>
<circle cx="620.44" cy="696.82" r="0.55" fill="#c9d0f0"/>
<circle cx="622.24" cy="696.95" r="1.8" fill="#3a4ba8"/>
<circle cx="621.94" cy="696.65" r="0.55" fill="#c9d0f0"/>
<circle cx="623.73" cy="696.72" r="1.8" fill="#3a4ba8"/>
<circle cx="623.43" cy="696.42" r="0.55" fill="#c9d0f0"/>
<circle cx="625.23" cy="696.46" r="1.8" fill="#3a4ba8"/>
<circle cx="624.93" cy="696.16" r="0.55" fill="#c9d0f0"/>
<circle cx="626.72" cy="696.21" r="1.8" fill="#3a4ba8"/>
<circle cx="626.42" cy="695.91" r="0.55" fill="#c9d0f0"/>
<circle cx="628.21" cy="696.01" r="1.8" fill="#3a4ba8"/>
<circle cx="627.91" cy="695.71" r="0.55" fill="#c9d0f0"/>
<circle cx="629.71" cy="695.89" r="1.8" fill="#3a4ba8"/>
<circle cx="629.41" cy="695.59" r="0.55" fill="#c9d0f0"/>
<circle cx="563.97" cy="695.87" r="1.8" fill="#3a4ba8"/>
<circle cx="563.67" cy="695.57" r="0.55" fill="#c9d0f0"/>
<circle cx="565.32" cy="695.81" r="1.8" fill="#3a4ba8"/>
<circle cx="565.02" cy="695.51" r="0.55" fill="#c9d0f0"/>
<circle cx="566.66" cy="695.66" r="1.8" fill="#3a4ba8"/>
<circle cx="566.36" cy="695.36" r="0.55" fill="#c9d0f0"/>
<circle cx="568.01" cy="695.46" r="1.8" fill="#3a4ba8"/>
<circle cx="567.71" cy="695.16" r="0.55" fill="#c9d0f0"/>
<circle cx="569.35" cy="695.24" r="1.8" fill="#3a4ba8"/>
<circle cx="569.05" cy="694.94" r="0.55" fill="#c9d0f0"/>
<circle cx="570.69" cy="695.05" r="1.8" fill="#3a4ba8"/>
<circle cx="570.39" cy="694.75" r="0.55" fill="#c9d0f0"/>
<circle cx="572.04" cy="694.92" r="1.8" fill="#3a4ba8"/>
<circle cx="571.74" cy="694.62" r="0.55" fill="#c9d0f0"/>
<circle cx="573.38" cy="694.83" r="1.8" fill="#3a4ba8"/>
<circle cx="573.08" cy="694.53" r="0.55" fill="#c9d0f0"/>
<circle cx="574.73" cy="694.09" r="1.8" fill="#3a4ba8"/>
<circle cx="574.43" cy="693.79" r="0.55" fill="#c9d0f0"/>
<circle cx="576.07" cy="692.99" r="1.8" fill="#3a4ba8"/>
<circle cx="575.77" cy="692.69" r="0.55" fill="#c9d0f0"/>
<circle cx="577.42" cy="692.12" r="1.8" fill="#3a4ba8"/>
<circle cx="577.12" cy="691.82" r="0.55" fill="#c9d0f0"/>
<circle cx="578.76" cy="691.91" r="1.8" fill="#3a4ba8"/>
<circle cx="578.46" cy="691.61" r="0.55" fill="#c9d0f0"/>
<circle cx="580.11" cy="691.57" r="1.8" fill="#3a4ba8"/>
<circle cx="579.81" cy="691.27" r="0.55" fill="#c9d0f0"/>
<circle cx="581.45" cy="691.01" r="1.8" fill="#3a4ba8"/>
<circle cx="581.15" cy="690.71" r="0.55" fill="#c9d0f0"/>
<circle cx="582.80" cy="690.41" r="1.8" fill="#3a4ba8"/>
<circle cx="582.50" cy="690.11" r="0.55" fill="#c9d0f0"/>
<circle cx="584.14" cy="689.90" r="1.8" fill="#3a4ba8"/>
<circle cx="583.84" cy="689.60" r="0.55" fill="#c9d0f0"/>
<circle cx="585.49" cy="689.67" r="1.8" fill="#3a4ba8"/>
<circle cx="585.19" cy="689.37" r="0.55" fill="#c9d0f0"/>
<circle cx="586.83" cy="689.78" r="1.8" fill="#3a4ba8"/>
<circle cx="586.53" cy="689.48" r="0.55" fill="#c9d0f0"/>
<circle cx="588.17" cy="690.10" r="1.8" fill="#3a4ba8"/>
<circle cx="587.87" cy="689.80" r="0.55" fill="#c9d0f0"/>
<circle cx="589.52" cy="690.53" r="1.8" fill="#3a4ba8"/>
<circle cx="589.22" cy="690.23" r="0.55" fill="#c9d0f0"/>
<circle cx="590.86" cy="690.95" r="1.8" fill="#3a4ba8"/>
<circle cx="590.56" cy="690.65" r="0.55" fill="#c9d0f0"/>
<circle cx="592.21" cy="691.23" r="1.8" fill="#3a4ba8"/>
<circle cx="591.91" cy="690.93" r="0.55" fill="#c9d0f0"/>
<circle cx="593.55" cy="691.31" r="1.8" fill="#3a4ba8"/>
<circle cx="593.25" cy="691.01" r="0.55" fill="#c9d0f0"/>
<circle cx="594.90" cy="691.41" r="1.8" fill="#3a4ba8"/>
<circle cx="594.60" cy="691.11" r="0.55" fill="#c9d0f0"/>
<circle cx="596.24" cy="691.61" r="1.8" fill="#3a4ba8"/>
<circle cx="595.94" cy="691.31" r="0.55" fill="#c9d0f0"/>
<circle cx="597.59" cy="691.87" r="1.8" fill="#3a4ba8"/>
<circle cx="597.29" cy="691.57" r="0.55" fill="#c9d0f0"/>
<circle cx="598.93" cy="692.17" r="1.8" fill="#3a4ba8"/>
<circle cx="598.63" cy="691.87" r="0.55" fill="#c9d0f0"/>
<circle cx="600.28" cy="692.45" r="1.8" fill="#3a4ba8"/>
<circle cx="599.98" cy="692.15" r="0.55" fill="#c9d0f0"/>
<circle cx="601.62" cy="692.70" r="1.8" fill="#3a4ba8"/>
<circle cx="601.32" cy="692.40" r="0.55" fill="#c9d0f0"/>
<circle cx="602.97" cy="692.87" r="1.8" fill="#3a4ba8"/>
<circle cx="602.67" cy="692.57" r="0.55" fill="#c9d0f0"/>
<circle cx="604.31" cy="692.93" r="1.8" fill="#3a4ba8"/>
<circle cx="604.01" cy="692.63" r="0.55" fill="#c9d0f0"/>
<circle cx="605.65" cy="692.85" r="1.8" fill="#3a4ba8"/>
<circle cx="605.35" cy="692.55" r="0.55" fill="#c9d0f0"/>
<circle cx="607.00" cy="692.64" r="1.8" fill="#3a4ba8"/>
<circle cx="606.70" cy="692.34" r="0.55" fill="#c9d0f0"/>
<circle cx="608.34" cy="692.38" r="1.8" fill="#3a4ba8"/>
<circle cx="608.04" cy="692.08" r="0.55" fill="#c9d0f0"/>
<circle cx="609.69" cy="692.14" r="1.8" fill="#3a4ba8"/>
<circle cx="609.39" cy="691.84" r="0.55" fill="#c9d0f0"/>
<circle cx="611.03" cy="691.98" r="1.8" fill="#3a4ba8"/>
<circle cx="610.73" cy="691.68" r="0.55" fill="#c9d0f0"/>
<circle cx="612.38" cy="691.68" r="1.8" fill="#3a4ba8"/>
<circle cx="612.08" cy="691.38" r="0.55" fill="#c9d0f0"/>
<circle cx="613.72" cy="689.88" r="1.8" fill="#3a4ba8"/>
<circle cx="613.42" cy="689.58" r="0.55" fill="#c9d0f0"/>
<circle cx="615.07" cy="688.19" r="1.8" fill="#3a4ba8"/>
<circle cx="614.77" cy="687.89" r="0.55" fill="#c9d0f0"/>
<circle cx="624.85" cy="679.21" r="1.8" fill="#3a4ba8"/>
<circle cx="624.55" cy="678.91" r="0.55" fill="#c9d0f0"/>
<circle cx="626.35" cy="684.77" r="1.8" fill="#3a4ba8"/>
<circle cx="626.05" cy="684.47" r="0.55" fill="#c9d0f0"/>
<circle cx="627.84" cy="686.34" r="1.8" fill="#3a4ba8"/>
<circle cx="627.54" cy="686.04" r="0.55" fill="#c9d0f0"/>
<circle cx="629.33" cy="688.75" r="1.8" fill="#3a4ba8"/>
<circle cx="629.03" cy="688.45" r="0.55" fill="#c9d0f0"/>
<circle cx="630.83" cy="689.72" r="1.8" fill="#3a4ba8"/>
<circle cx="630.53" cy="689.42" r="0.55" fill="#c9d0f0"/>
<circle cx="632.32" cy="690.65" r="1.8" fill="#3a4ba8"/>
<circle cx="632.02" cy="690.35" r="0.55" fill="#c9d0f0"/>
<circle cx="633.82" cy="691.57" r="1.8" fill="#3a4ba8"/>
<circle cx="633.52" cy="691.27" r="0.55" fill="#c9d0f0"/>
<circle cx="635.31" cy="691.91" r="1.8" fill="#3a4ba8"/>
<circle cx="635.01" cy="691.61" r="0.55" fill="#c9d0f0"/>
<circle cx="636.80" cy="692.65" r="1.8" fill="#3a4ba8"/>
<circle cx="636.50" cy="692.35" r="0.55" fill="#c9d0f0"/>
<circle cx="638.30" cy="692.95" r="1.8" fill="#3a4ba8"/>
<circle cx="638.00" cy="692.65" r="0.55" fill="#c9d0f0"/>
<circle cx="639.79" cy="693.30" r="1.8" fill="#3a4ba8"/>
<circle cx="639.49" cy="693.00" r="0.55" fill="#c9d0f0"/>
<circle cx="641.29" cy="693.76" r="1.8" fill="#3a4ba8"/>
<circle cx="640.99" cy="693.46" r="0.55" fill="#c9d0f0"/>
<circle cx="619.80" cy="549.60" r="1.8" fill="#3a4ba8"/>
<circle cx="619.50" cy="549.30" r="0.55" fill="#c9d0f0"/>
<circle cx="619.20" cy="568.50" r="1.8" fill="#3a4ba8"/>
<circle cx="618.90" cy="568.20" r="0.55" fill="#c9d0f0"/>
<circle cx="620.70" cy="589.80" r="1.8" fill="#3a4ba8"/>
<circle cx="620.40" cy="589.50" r="0.55" fill="#c9d0f0"/>
<circle cx="621.60" cy="628.00" r="1.8" fill="#3a4ba8"/>
<circle cx="621.30" cy="627.70" r="0.55" fill="#c9d0f0"/>
<circle cx="618.70" cy="634.20" r="1.8" fill="#3a4ba8"/>
<circle cx="618.40" cy="633.90" r="0.55" fill="#c9d0f0"/>
<circle cx="622.50" cy="648.10" r="1.8" fill="#3a4ba8"/>
<circle cx="622.20" cy="647.80" r="0.55" fill="#c9d0f0"/>
<circle cx="623.00" cy="655.80" r="1.8" fill="#3a4ba8"/>
<circle cx="622.70" cy="655.50" r="0.55" fill="#c9d0f0"/>
<circle cx="623.70" cy="663.90" r="1.8" fill="#3a4ba8"/>
<circle cx="623.40" cy="663.60" r="0.55" fill="#c9d0f0"/>
<circle cx="617.60" cy="669.70" r="1.8" fill="#3a4ba8"/>
<circle cx="617.30" cy="669.40" r="0.55" fill="#c9d0f0"/>
<circle cx="624.30" cy="672.80" r="1.8" fill="#3a4ba8"/>
<circle cx="624.00" cy="672.50" r="0.55" fill="#c9d0f0"/>
<circle cx="616.70" cy="678.70" r="1.8" fill="#3a4ba8"/>
<circle cx="616.40" cy="678.40" r="0.55" fill="#c9d0f0"/>
<circle cx="625.20" cy="679.10" r="1.8" fill="#3a4ba8"/>
<circle cx="624.90" cy="678.80" r="0.55" fill="#c9d0f0"/>
<circle cx="615.80" cy="683.60" r="1.8" fill="#3a4ba8"/>
<circle cx="615.50" cy="683.30" r="0.55" fill="#c9d0f0"/>
</g>
</g>
</svg></body></html>
